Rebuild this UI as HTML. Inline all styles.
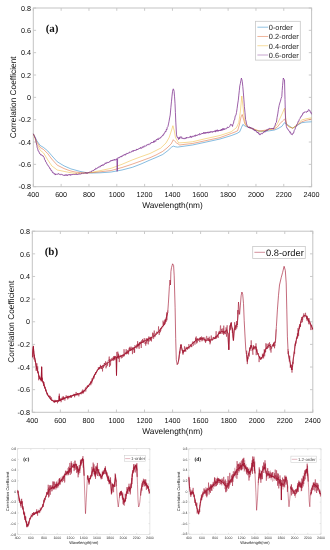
<!DOCTYPE html>
<html><head><meta charset="utf-8"><title>Correlation Coefficient</title>
<style>
html,body{margin:0;padding:0;background:#fff;}
body{width:330px;height:550px;overflow:hidden;}
svg{display:block;text-rendering:geometricPrecision;}
</style></head><body>
<svg width="330" height="550" viewBox="0 0 330 550" font-family="Liberation Sans, Arial, sans-serif" fill="#111">
<rect width="330" height="550" fill="#fff"/>
<rect x="33.3" y="8" width="278.3" height="178.7" fill="none" stroke="#c4c4c4" stroke-width="1.0"/>
<path d="M33.3 186.7v-2.8 M33.3 8v2.8 M61.13 186.7v-2.8 M61.13 8v2.8 M88.96 186.7v-2.8 M88.96 8v2.8 M116.79 186.7v-2.8 M116.79 8v2.8 M144.62 186.7v-2.8 M144.62 8v2.8 M172.45 186.7v-2.8 M172.45 8v2.8 M200.28 186.7v-2.8 M200.28 8v2.8 M228.11 186.7v-2.8 M228.11 8v2.8 M255.94 186.7v-2.8 M255.94 8v2.8 M283.77 186.7v-2.8 M283.77 8v2.8 M311.6 186.7v-2.8 M311.6 8v2.8 M33.3 8h2.8 M311.6 8h-2.8 M33.3 30.34h2.8 M311.6 30.34h-2.8 M33.3 52.67h2.8 M311.6 52.67h-2.8 M33.3 75.01h2.8 M311.6 75.01h-2.8 M33.3 97.35h2.8 M311.6 97.35h-2.8 M33.3 119.69h2.8 M311.6 119.69h-2.8 M33.3 142.02h2.8 M311.6 142.02h-2.8 M33.3 164.36h2.8 M311.6 164.36h-2.8 M33.3 186.7h2.8 M311.6 186.7h-2.8" stroke="#c4c4c4" stroke-width="0.9" fill="none"/>
<text x="31" y="8.2" font-size="7.2" text-anchor="end" dominant-baseline="central">0.8</text>
<text x="31" y="30.54" font-size="7.2" text-anchor="end" dominant-baseline="central">0.6</text>
<text x="31" y="52.88" font-size="7.2" text-anchor="end" dominant-baseline="central">0.4</text>
<text x="31" y="75.21" font-size="7.2" text-anchor="end" dominant-baseline="central">0.2</text>
<text x="31" y="97.55" font-size="7.2" text-anchor="end" dominant-baseline="central">0</text>
<text x="31" y="119.89" font-size="7.2" text-anchor="end" dominant-baseline="central">-0.2</text>
<text x="31" y="142.22" font-size="7.2" text-anchor="end" dominant-baseline="central">-0.4</text>
<text x="31" y="164.56" font-size="7.2" text-anchor="end" dominant-baseline="central">-0.6</text>
<text x="31" y="186.9" font-size="7.2" text-anchor="end" dominant-baseline="central">-0.8</text>
<text x="33.3" y="197.3" font-size="7.2" text-anchor="middle">400</text>
<text x="61.13" y="197.3" font-size="7.2" text-anchor="middle">600</text>
<text x="88.96" y="197.3" font-size="7.2" text-anchor="middle">800</text>
<text x="116.79" y="197.3" font-size="7.2" text-anchor="middle">1000</text>
<text x="144.62" y="197.3" font-size="7.2" text-anchor="middle">1200</text>
<text x="172.45" y="197.3" font-size="7.2" text-anchor="middle">1400</text>
<text x="200.28" y="197.3" font-size="7.2" text-anchor="middle">1600</text>
<text x="228.11" y="197.3" font-size="7.2" text-anchor="middle">1800</text>
<text x="255.94" y="197.3" font-size="7.2" text-anchor="middle">2000</text>
<text x="283.77" y="197.3" font-size="7.2" text-anchor="middle">2200</text>
<text x="311.6" y="197.3" font-size="7.2" text-anchor="middle">2400</text>
<text x="172.45" y="208.4" font-size="8.3" text-anchor="middle">Wavelength(nm)</text>
<text transform="translate(16 97.35) rotate(-90)" font-size="8.3" text-anchor="middle">Correlation Coefficient</text>
<text x="45.7" y="31.7" font-size="11" font-family="Liberation Serif, serif" font-weight="bold" fill="#111">(a)</text>
<rect x="32.3" y="231.2" width="280.5" height="181.1" fill="none" stroke="#c4c4c4" stroke-width="1.0"/>
<path d="M32.3 412.3v-2.8 M32.3 231.2v2.8 M60.35 412.3v-2.8 M60.35 231.2v2.8 M88.4 412.3v-2.8 M88.4 231.2v2.8 M116.45 412.3v-2.8 M116.45 231.2v2.8 M144.5 412.3v-2.8 M144.5 231.2v2.8 M172.55 412.3v-2.8 M172.55 231.2v2.8 M200.6 412.3v-2.8 M200.6 231.2v2.8 M228.65 412.3v-2.8 M228.65 231.2v2.8 M256.7 412.3v-2.8 M256.7 231.2v2.8 M284.75 412.3v-2.8 M284.75 231.2v2.8 M312.8 412.3v-2.8 M312.8 231.2v2.8 M32.3 231.2h2.8 M312.8 231.2h-2.8 M32.3 253.84h2.8 M312.8 253.84h-2.8 M32.3 276.48h2.8 M312.8 276.48h-2.8 M32.3 299.11h2.8 M312.8 299.11h-2.8 M32.3 321.75h2.8 M312.8 321.75h-2.8 M32.3 344.39h2.8 M312.8 344.39h-2.8 M32.3 367.02h2.8 M312.8 367.02h-2.8 M32.3 389.66h2.8 M312.8 389.66h-2.8 M32.3 412.3h2.8 M312.8 412.3h-2.8" stroke="#c4c4c4" stroke-width="0.9" fill="none"/>
<text x="30" y="231.4" font-size="7.2" text-anchor="end" dominant-baseline="central">0.8</text>
<text x="30" y="254.04" font-size="7.2" text-anchor="end" dominant-baseline="central">0.6</text>
<text x="30" y="276.68" font-size="7.2" text-anchor="end" dominant-baseline="central">0.4</text>
<text x="30" y="299.31" font-size="7.2" text-anchor="end" dominant-baseline="central">0.2</text>
<text x="30" y="321.95" font-size="7.2" text-anchor="end" dominant-baseline="central">0</text>
<text x="30" y="344.59" font-size="7.2" text-anchor="end" dominant-baseline="central">-0.2</text>
<text x="30" y="367.22" font-size="7.2" text-anchor="end" dominant-baseline="central">-0.4</text>
<text x="30" y="389.86" font-size="7.2" text-anchor="end" dominant-baseline="central">-0.6</text>
<text x="30" y="412.5" font-size="7.2" text-anchor="end" dominant-baseline="central">-0.8</text>
<text x="32.3" y="422.9" font-size="7.2" text-anchor="middle">400</text>
<text x="60.35" y="422.9" font-size="7.2" text-anchor="middle">600</text>
<text x="88.4" y="422.9" font-size="7.2" text-anchor="middle">800</text>
<text x="116.45" y="422.9" font-size="7.2" text-anchor="middle">1000</text>
<text x="144.5" y="422.9" font-size="7.2" text-anchor="middle">1200</text>
<text x="172.55" y="422.9" font-size="7.2" text-anchor="middle">1400</text>
<text x="200.6" y="422.9" font-size="7.2" text-anchor="middle">1600</text>
<text x="228.65" y="422.9" font-size="7.2" text-anchor="middle">1800</text>
<text x="256.7" y="422.9" font-size="7.2" text-anchor="middle">2000</text>
<text x="284.75" y="422.9" font-size="7.2" text-anchor="middle">2200</text>
<text x="312.8" y="422.9" font-size="7.2" text-anchor="middle">2400</text>
<text x="172.55" y="434" font-size="8.3" text-anchor="middle">Wavelength(nm)</text>
<text transform="translate(14.4 321.75) rotate(-90)" font-size="8.3" text-anchor="middle">Correlation Coefficient</text>
<text x="44.7" y="254.9" font-size="11" font-family="Liberation Serif, serif" font-weight="bold" fill="#111">(b)</text>
<rect x="17.6" y="448.7" width="132.3" height="85.6" fill="none" stroke="#d4d4d4" stroke-width="0.6"/>
<path d="M17.6 534.3v-1.4 M17.6 448.7v1.4 M30.83 534.3v-1.4 M30.83 448.7v1.4 M44.06 534.3v-1.4 M44.06 448.7v1.4 M57.29 534.3v-1.4 M57.29 448.7v1.4 M70.52 534.3v-1.4 M70.52 448.7v1.4 M83.75 534.3v-1.4 M83.75 448.7v1.4 M96.98 534.3v-1.4 M96.98 448.7v1.4 M110.21 534.3v-1.4 M110.21 448.7v1.4 M123.44 534.3v-1.4 M123.44 448.7v1.4 M136.67 534.3v-1.4 M136.67 448.7v1.4 M149.9 534.3v-1.4 M149.9 448.7v1.4 M17.6 448.7h1.4 M149.9 448.7h-1.4 M17.6 459.4h1.4 M149.9 459.4h-1.4 M17.6 470.1h1.4 M149.9 470.1h-1.4 M17.6 480.8h1.4 M149.9 480.8h-1.4 M17.6 491.5h1.4 M149.9 491.5h-1.4 M17.6 502.2h1.4 M149.9 502.2h-1.4 M17.6 512.9h1.4 M149.9 512.9h-1.4 M17.6 523.6h1.4 M149.9 523.6h-1.4 M17.6 534.3h1.4 M149.9 534.3h-1.4" stroke="#d4d4d4" stroke-width="0.54" fill="none"/>
<text x="16.3" y="448.9" font-size="3.5" text-anchor="end" dominant-baseline="central" fill="#333">0.8</text>
<text x="16.3" y="459.6" font-size="3.5" text-anchor="end" dominant-baseline="central" fill="#333">0.6</text>
<text x="16.3" y="470.3" font-size="3.5" text-anchor="end" dominant-baseline="central" fill="#333">0.4</text>
<text x="16.3" y="481" font-size="3.5" text-anchor="end" dominant-baseline="central" fill="#333">0.2</text>
<text x="16.3" y="491.7" font-size="3.5" text-anchor="end" dominant-baseline="central" fill="#333">0</text>
<text x="16.3" y="502.4" font-size="3.5" text-anchor="end" dominant-baseline="central" fill="#333">-0.2</text>
<text x="16.3" y="513.1" font-size="3.5" text-anchor="end" dominant-baseline="central" fill="#333">-0.4</text>
<text x="16.3" y="523.8" font-size="3.5" text-anchor="end" dominant-baseline="central" fill="#333">-0.6</text>
<text x="16.3" y="534.5" font-size="3.5" text-anchor="end" dominant-baseline="central" fill="#333">-0.8</text>
<text x="17.6" y="539" font-size="3.5" text-anchor="middle" fill="#333">400</text>
<text x="30.83" y="539" font-size="3.5" text-anchor="middle" fill="#333">600</text>
<text x="44.06" y="539" font-size="3.5" text-anchor="middle" fill="#333">800</text>
<text x="57.29" y="539" font-size="3.5" text-anchor="middle" fill="#333">1000</text>
<text x="70.52" y="539" font-size="3.5" text-anchor="middle" fill="#333">1200</text>
<text x="83.75" y="539" font-size="3.5" text-anchor="middle" fill="#333">1400</text>
<text x="96.98" y="539" font-size="3.5" text-anchor="middle" fill="#333">1600</text>
<text x="110.21" y="539" font-size="3.5" text-anchor="middle" fill="#333">1800</text>
<text x="123.44" y="539" font-size="3.5" text-anchor="middle" fill="#333">2000</text>
<text x="136.67" y="539" font-size="3.5" text-anchor="middle" fill="#333">2200</text>
<text x="149.9" y="539" font-size="3.5" text-anchor="middle" fill="#333">2400</text>
<text x="83.75" y="543.7" font-size="4.0" text-anchor="middle">Wavelength(nm)</text>
<text transform="translate(9 491.5) rotate(-90)" font-size="4.0" text-anchor="middle">Correlation Coefficient</text>
<text x="23.2" y="460.8" font-size="5.6" font-family="Liberation Serif, serif" font-weight="bold" fill="#111">(c)</text>
<rect x="188.8" y="448.8" width="132.2" height="85.4" fill="none" stroke="#d4d4d4" stroke-width="0.6"/>
<path d="M188.8 534.2v-1.4 M188.8 448.8v1.4 M202.02 534.2v-1.4 M202.02 448.8v1.4 M215.24 534.2v-1.4 M215.24 448.8v1.4 M228.46 534.2v-1.4 M228.46 448.8v1.4 M241.68 534.2v-1.4 M241.68 448.8v1.4 M254.9 534.2v-1.4 M254.9 448.8v1.4 M268.12 534.2v-1.4 M268.12 448.8v1.4 M281.34 534.2v-1.4 M281.34 448.8v1.4 M294.56 534.2v-1.4 M294.56 448.8v1.4 M307.78 534.2v-1.4 M307.78 448.8v1.4 M321 534.2v-1.4 M321 448.8v1.4 M188.8 448.8h1.4 M321 448.8h-1.4 M188.8 459.48h1.4 M321 459.48h-1.4 M188.8 470.15h1.4 M321 470.15h-1.4 M188.8 480.83h1.4 M321 480.83h-1.4 M188.8 491.5h1.4 M321 491.5h-1.4 M188.8 502.18h1.4 M321 502.18h-1.4 M188.8 512.85h1.4 M321 512.85h-1.4 M188.8 523.53h1.4 M321 523.53h-1.4 M188.8 534.2h1.4 M321 534.2h-1.4" stroke="#d4d4d4" stroke-width="0.54" fill="none"/>
<text x="187.5" y="449" font-size="3.5" text-anchor="end" dominant-baseline="central" fill="#333">0.8</text>
<text x="187.5" y="459.68" font-size="3.5" text-anchor="end" dominant-baseline="central" fill="#333">0.6</text>
<text x="187.5" y="470.35" font-size="3.5" text-anchor="end" dominant-baseline="central" fill="#333">0.4</text>
<text x="187.5" y="481.03" font-size="3.5" text-anchor="end" dominant-baseline="central" fill="#333">0.2</text>
<text x="187.5" y="491.7" font-size="3.5" text-anchor="end" dominant-baseline="central" fill="#333">0</text>
<text x="187.5" y="502.38" font-size="3.5" text-anchor="end" dominant-baseline="central" fill="#333">-0.2</text>
<text x="187.5" y="513.05" font-size="3.5" text-anchor="end" dominant-baseline="central" fill="#333">-0.4</text>
<text x="187.5" y="523.73" font-size="3.5" text-anchor="end" dominant-baseline="central" fill="#333">-0.6</text>
<text x="187.5" y="534.4" font-size="3.5" text-anchor="end" dominant-baseline="central" fill="#333">-0.8</text>
<text x="188.8" y="538.9" font-size="3.5" text-anchor="middle" fill="#333">400</text>
<text x="202.02" y="538.9" font-size="3.5" text-anchor="middle" fill="#333">600</text>
<text x="215.24" y="538.9" font-size="3.5" text-anchor="middle" fill="#333">800</text>
<text x="228.46" y="538.9" font-size="3.5" text-anchor="middle" fill="#333">1000</text>
<text x="241.68" y="538.9" font-size="3.5" text-anchor="middle" fill="#333">1200</text>
<text x="254.9" y="538.9" font-size="3.5" text-anchor="middle" fill="#333">1400</text>
<text x="268.12" y="538.9" font-size="3.5" text-anchor="middle" fill="#333">1600</text>
<text x="281.34" y="538.9" font-size="3.5" text-anchor="middle" fill="#333">1800</text>
<text x="294.56" y="538.9" font-size="3.5" text-anchor="middle" fill="#333">2000</text>
<text x="307.78" y="538.9" font-size="3.5" text-anchor="middle" fill="#333">2200</text>
<text x="321" y="538.9" font-size="3.5" text-anchor="middle" fill="#333">2400</text>
<text x="254.9" y="543.6" font-size="4.0" text-anchor="middle">Wavelength(nm)</text>
<text transform="translate(180.2 491.5) rotate(-90)" font-size="4.0" text-anchor="middle">Correlation Coefficient</text>
<text x="194.4" y="460.9" font-size="5.6" font-family="Liberation Serif, serif" font-weight="bold" fill="#111">(d)</text>
<polyline points="33.4,133.9 36.8,140.7 40.2,145.5 43.6,147.5 47.7,150.9 51.8,155.7 57.3,161.8 64.1,165.9 70.9,168.9 75,170 80,171.4 86.2,172.6 92,173 100,172.8 111.2,172 122,170 132.4,167.3 141,164 150,160 156,157.5 162.7,154.5 168,150.5 171.5,147.2 173.3,146.1 175.5,146.8 177.6,147.1 184,146.2 192.4,145 205,142.3 220,139 231.2,135.6 237,133.4 239.7,131.8 241.5,127.5 242.9,124.4 244.2,125.5 246,126.5 252.4,128.6 256,130.5 260.9,131.4 265,131.2 269.4,130.8 274.5,130 278,128.6 281.8,126.4 284.5,122.7 287.3,124.5 290,126.5 292.7,128.2 296,126 301.8,122.7 306,122.1 311.5,121.8" fill="none" stroke="#0072BD" stroke-width="0.8" stroke-linejoin="round" stroke-opacity="0.6"/>
<polyline points="33.4,133.9 36.8,142 40.2,147.5 43.6,149.5 47.7,153.6 51.8,159.1 57.3,165.2 64.1,168.6 70,170.8 75,172 81,172.7 88,172.9 95,172.4 111.2,170.5 122,167.5 132.4,164.1 141,161 150,157.7 156,155 162.7,151.4 167,148 171.2,143.9 173.3,139.7 175,141.5 176.5,142.9 179.7,145 185,144.3 192.4,143.5 205,140.8 220,137.6 231.2,133.5 235,132 237.6,130.8 239.6,124 241,117 242.2,114.5 243.5,119 245,124.4 248,127 252.4,128.6 258.8,130.8 264,130.4 269.4,129.5 274.5,129 277.5,126.8 280,123.6 282.5,121 284.5,119.1 286,122 287.3,125.5 290,127.2 292.7,128.2 296,126 301.8,121.8 306,120.3 311.5,119.1" fill="none" stroke="#D95319" stroke-width="0.8" stroke-linejoin="round" stroke-opacity="0.6"/>
<polyline points="33.4,133.9 36.8,144.1 40.2,150.2 43.6,153 47.7,159.8 51.8,165.9 57.3,170 64.1,171.4 70,172.6 75,173.4 82,173.4 90,172.6 100,170.7 111.2,168.3 122,164.3 132.4,159.9 141,156.7 150,153.5 160.6,148.2 166,143 169.1,137.6 171.3,131 172.9,125.7 174.3,131 175.5,137.6 178.6,142.9 185,142.5 192.4,141.8 205,138.8 220,135.5 231.2,131.8 236.5,127.6 238.8,122.5 240.3,112 241.8,96 243.2,108 244.3,119 246,125.5 249,127.5 252.4,128.6 259.9,131.8 264,131 269.4,129.7 274.5,128.2 277.5,123.5 280,118.2 282.5,113 284.5,108.2 285.5,116 286.4,124.5 289.5,127 292.7,128.2 296,125.5 301.8,120 306,118.8 311.5,117.8" fill="none" stroke="#EDB120" stroke-width="0.8" stroke-linejoin="round" stroke-opacity="0.6"/>
<polyline points="33.4,133.79 33.92,135.5 34.45,135.92 34.98,137.89 35.5,138.12 36.15,142.19 36.8,145.39 37.27,147.9 37.73,148.84 38.2,151.14 38.87,151.34 39.53,153.55 40.2,153.7 40.9,155.16 41.6,154.75 42.3,155.89 42.95,155.57 43.6,157.02 44.12,157.33 44.65,159.65 45.18,159.95 45.7,161.94 46.38,162.34 47.06,164.46 47.74,164.82 48.42,166.32 49.1,166.68 49.78,168.63 50.46,168.65 51.14,170.75 51.82,170.53 52.5,172.65 53.17,172.26 53.85,173.78 54.53,173.43 55.2,175.06 55.88,173.71 56.56,174.44 57.24,174.03 57.92,174.39 58.6,173.42 59.29,174.6 59.98,173.9 60.66,174.8 61.35,174.24 62.04,175.12 62.72,174.61 63.41,175.52 64.1,174.75 64.78,175.8 65.46,174.61 66.14,175.74 66.82,174.43 67.5,175.69 68.18,174.46 68.86,175.12 69.54,174.26 70.22,175.52 70.9,174.16 71.58,175.18 72.27,174.14 72.95,174.83 73.63,173.93 74.32,174.91 75,174.13 75.62,174.48 76.25,173.66 76.88,174.91 77.5,173.99 78.12,174.67 78.75,173.68 79.38,174.16 80,173.62 80.69,174.36 81.38,173.08 82.07,173.73 82.76,173.03 83.44,173.53 84.13,172.77 84.82,173.5 85.51,172.47 86.2,173.69 86.83,172.48 87.47,173.47 88.1,172.36 88.73,172.68 89.37,171.95 90,172.42 90.62,171.7 91.25,171.9 91.88,170.71 92.5,171 93.12,170.29 93.75,170.67 94.38,169.38 95,169.98 95.7,168.27 96.4,168.85 97.1,167.76 97.8,168.16 98.5,166.87 99.2,167.43 99.9,166.15 100.6,166.81 101.27,164.98 101.95,166 102.62,164.65 103.3,165.44 103.97,164.07 104.65,164.39 105.33,162.78 106,163.83 106.65,162.45 107.3,162.84 107.95,161.95 108.6,162.68 109.25,161.65 109.9,162.11 110.55,160.58 111.2,161.08 111.86,160.07 112.53,160.97 113.19,159.61 113.85,160.45 114.51,159.16 115.17,160.32 115.84,159.26 116.5,159.38 116.9,158.55 117.1,171.37 117.4,170.17 117.6,158.88 118.2,157.5 118.8,158.15 119.4,157.04 120,157.52 120.6,156.41 121.2,157.1 121.8,155.84 122.45,156.31 123.1,154.85 123.75,155.42 124.4,154.38 125.05,155.33 125.7,153.95 126.35,154.32 127,152.95 127.67,153.73 128.35,152.85 129.03,153.31 129.7,151.88 130.38,152.48 131.05,151.59 131.72,152.08 132.4,150.63 133.1,151.6 133.8,150.06 134.5,150.84 135.2,149.91 135.9,150.66 136.6,148.94 137.3,149.96 138,148.89 138.62,149.17 139.25,148.13 139.88,148.69 140.5,147.4 141.12,148.66 141.75,147.35 142.38,147.71 143,146.35 143.7,147.4 144.4,145.69 145.1,146.51 145.8,145.55 146.5,145.81 147.2,144.38 147.9,145.13 148.6,144.06 149.3,144.58 150,143.34 150.62,143.9 151.25,142.26 151.88,143 152.5,142.26 153.12,142.91 153.75,140.89 154.38,142.24 155,140.53 155.7,141.44 156.4,139.31 157.1,140.03 157.8,138.59 158.5,139.65 159.2,137.81 159.9,138.56 160.6,137.24 161.18,137.44 161.76,136.17 162.34,136.11 162.92,134.77 163.5,135.15 164.1,133.15 164.7,133.17 165.3,131.27 165.9,131.87 166.37,129.29 166.83,129.89 167.3,127.18 167.9,126.58 168.5,123.95 169.07,121.24 169.63,117.91 170.2,115.12 170.85,107.79 171.5,101.18 172,96.1 172.5,91.78 172.9,89.9 173.3,88.83 173.7,89.74 174.1,91.26 174.55,96.83 175,103.24 175.4,112.37 175.8,122.1 176.5,134.84 177.2,137.46 177.9,137.24 178.6,139.51 179.15,137.22 179.7,138.82 180.25,136.62 180.8,137.37 181.44,136.73 182.08,138.73 182.72,137.83 183.36,138.74 184,138.18 184.65,139.1 185.29,137.72 185.94,138.72 186.58,137.06 187.23,137.96 187.88,137.41 188.52,137.75 189.17,137.03 189.82,137.38 190.46,135.91 191.11,137.79 191.75,136.42 192.4,137.13 193.06,135.84 193.72,136.56 194.39,135.41 195.05,136.47 195.71,134.79 196.38,135.8 197.04,134.76 197.7,135.37 198.36,134.42 199.03,135.18 199.69,133.47 200.35,134.62 201.01,133.66 201.68,134.03 202.34,132.99 203,134.03 203.69,132.29 204.38,133.59 205.08,132.04 205.77,133.59 206.46,132.15 207.15,133.12 207.85,131.86 208.54,133.2 209.23,131.7 209.92,132.96 210.62,131.43 211.31,132.31 212,131.13 212.67,132.48 213.33,131.3 214,131.96 214.67,130.7 215.33,132.12 216,129.96 216.67,131.38 217.33,129.73 218,131.5 218.67,130.06 219.33,130.93 220,129.92 220.62,130.95 221.25,129.07 221.88,130.67 222.5,128.59 223.12,130.11 223.75,128.3 224.38,129.67 225,128.54 225.68,129.25 226.37,128.1 227.05,128.3 227.73,126.84 228.42,127.67 229.1,126.95 229.8,126.52 230.5,124.35 231.2,124.73 231.85,124.76 232.5,126.45 233,123.72 233.5,123.45 234,120.21 234.62,119.87 235.25,115.79 235.88,115.48 236.5,112.45 237.1,108.52 237.7,103.99 238.3,100.18 238.8,95.11 239.3,90.74 239.8,85.76 240.33,83.62 240.87,80.61 241.4,78.13 241.85,79.56 242.3,81.76 242.8,86.64 243.3,92.09 243.85,99.14 244.4,106.7 245,112.76 245.6,119.65 246.07,121.08 246.53,123.94 247,125.1 247.6,126.8 248.2,127 248.8,127.92 249.4,126.72 250,128.25 250.6,127.29 251.2,128.46 251.8,127.74 252.4,129.31 253.01,128.41 253.63,130.04 254.24,129.47 254.86,131.06 255.47,130.06 256.09,131.59 256.7,131.59 257.34,133.03 257.98,132 258.62,133.89 259.26,133.41 259.9,135.08 260.52,133.82 261.14,134.14 261.76,133.21 262.38,133.78 263,132.52 263.62,132.71 264.25,131.24 264.88,132.26 265.5,130.54 266.15,131.19 266.8,129.68 267.45,130.54 268.1,128.78 268.75,129.32 269.4,128.3 270,128.72 270.6,128.04 271.2,128.94 271.8,128.22 272.4,128.87 273,128.05 273.6,129.13 274.3,126.51 275,125.99 275.7,122.95 276.4,122.39 277.07,117.56 277.75,113.91 278.43,109.32 279.1,105.69 279.78,103.06 280.45,101.18 281.12,98.41 281.8,96.55 282.2,90.47 282.6,85.29 283.3,78.04 283.9,79.2 284.5,79.9 285,99.33 285.5,117.98 285.95,123.04 286.4,126.51 287.07,128.52 287.75,128.82 288.43,130.33 289.1,130.62 289.78,132.47 290.45,131.91 291.12,134.42 291.8,134.17 292.4,134.7 293,132.93 293.6,133.16 294.3,130.21 295,129.3 295.7,127.09 296.4,126.27 297,123.93 297.6,123.47 298.2,121.27 298.8,121.29 299.4,119.28 300,118.59 300.6,116.81 301.2,116.87 301.8,115.15 302.4,115.12 303,112.75 303.6,113.13 304.3,111.92 305,112.48 305.7,111.68 306.4,112.44 307.07,111.13 307.75,111.71 308.43,109.62 309.1,110.21 309.7,110.04 310.3,112.22 310.9,111.97 311.5,114.31" fill="none" stroke="#7E2F8E" stroke-width="0.9" stroke-linejoin="round" stroke-opacity="0.85"/>
<rect x="255.5" y="21.3" width="44.8" height="38.8" fill="#fff" stroke="#c8c8c8" stroke-width="0.8"/>
<line x1="257.4" y1="27.2" x2="268.2" y2="27.2" stroke="#0072BD" stroke-width="0.8" stroke-opacity="0.55"/>
<text x="268.8" y="27.5" font-size="7.4" dominant-baseline="central" fill="#222">0-order</text>
<line x1="257.4" y1="36.47" x2="268.2" y2="36.47" stroke="#D95319" stroke-width="0.8" stroke-opacity="0.55"/>
<text x="268.8" y="36.77" font-size="7.4" dominant-baseline="central" fill="#222">0.2-order</text>
<line x1="257.4" y1="45.74" x2="268.2" y2="45.74" stroke="#EDB120" stroke-width="0.8" stroke-opacity="0.55"/>
<text x="268.8" y="46.04" font-size="7.4" dominant-baseline="central" fill="#222">0.4-order</text>
<line x1="257.4" y1="55.01" x2="268.2" y2="55.01" stroke="#7E2F8E" stroke-width="0.8" stroke-opacity="0.55"/>
<text x="268.8" y="55.31" font-size="7.4" dominant-baseline="central" fill="#222">0.6-order</text>
<polyline points="32.5,357.3 33,350 33.4,346.4 33.8,353.2 34.8,358.6 36.1,365.5 37.5,370.9 38.9,375.7 40.2,379.1 41.3,380 41.6,366.8 41.9,380 43,381.8 44.3,385.9 45.7,390 47,393.4 49.1,397.5 51.8,400.2 54.5,401.6 57.3,400.9 59,400.5 59.3,396.1 59.6,400.5 62.7,398.9 66.8,397.5 70.9,396.1 75.5,394.5 78.2,394.1 80.9,393.2 83.6,391.4 86.4,388.6 89.1,385 91.8,381.4 94.5,375 97.3,370.5 100,367 103.2,366 107.3,363.3 111.4,360.2 115.5,357 116.2,357 116.5,375.2 116.8,357 119.5,356.8 123.6,354.8 127.7,352 131.8,349.3 135.9,346.6 140,343.5 145.3,340.6 148.9,338.8 152.5,337 156.2,334.5 159.2,330.9 161.6,327.3 163.5,325.5 164.7,323.6 166.5,317 167.7,312.7 168.4,303.1 169.4,286.4 170,280 170.5,285 170.9,271.7 171.5,267.6 172.6,263.8 173.6,265.5 174.2,275.9 175.1,307.3 175.7,338.7 176.3,359.6 177.2,364.8 178.4,361.7 179.9,351.2 180.9,345 182,349.1 183,353.3 184.1,350.2 185,350.9 186.2,348.1 188,347.9 191.1,344.8 194.1,341.8 197.1,339.5 200.2,338.8 203.2,338.8 206.2,340.3 209.2,340.3 212.3,339.5 215.3,338 217.6,335 219.8,332.7 222.1,331.2 224.4,332.7 226.7,329.7 228,334 228.8,349.9 229.5,331.4 231.1,322.9 232.6,331.4 233.4,340.6 234.2,329.8 235.7,326.7 237.3,323.6 238,314.4 238.5,302 239.6,314.4 240.4,305.1 241.1,295.8 241.9,292 242.7,294.3 243.5,303.5 244.2,320.5 245,336 245.8,349.9 246.5,354.6 247.3,361.5 248.1,356.1 249.6,349.9 251.2,345.3 252.7,349.9 254.3,346.8 255.8,348.4 257.4,353 258.9,356.1 260.5,359.2 262,357.6 263.6,354.6 265.1,350 267.1,347.2 269.1,345.1 271.2,347.2 273.3,345.1 275.4,341 276.4,326.5 277.4,309.9 278.5,295.3 279.5,285 281.2,277.7 282.6,272.5 284.1,266.3 285.3,270.4 286.2,282.9 286.8,309.9 287.4,336.8 288.2,353.4 289.5,359.7 290.9,365.9 292,370 293,361.7 295.1,345.1 297.2,336.8 299.2,328.5 301.3,320.2 303.4,316.1 305.5,315.1 307.5,318.2 309.6,322.3 311.7,326.5 312.7,329" fill="none" stroke="#A2142F" stroke-width="0.85" stroke-linejoin="round" stroke-opacity="0.75"/>
<polyline points="32.5,357.3 33,350 33.4,346.4 33.8,353.2 34.8,358.6 36.1,365.5 37.5,370.9 38.9,375.7 40.2,379.1 41.3,380 41.6,366.8 41.9,380 43,381.8 44.3,385.9 45.7,390 47,393.4 49.1,397.5 51.8,400.2 54.5,401.6 57.3,400.9 59,400.5 59.3,396.1 59.6,400.5 62.7,398.9 66.8,397.5 70.9,396.1 75.5,394.5 78.2,394.1 80.9,393.2 83.6,391.4 86.4,388.6 89.1,385 91.8,381.4 94.5,375 97.3,370.5 100,367 103.2,366 107.3,363.3 111.4,360.2 115.5,357 116.2,357 116.5,375.2 116.8,357 119.5,356.8 123.6,354.8 127.7,352 131.8,349.3 135.9,346.6 140,343.5 145.3,340.6 148.9,338.8 152.5,337 156.2,334.5 159.2,330.9 161.6,327.3 163.5,325.5 164.7,323.6 166.5,317 167.7,312.7" fill="none" stroke="#A2142F" stroke-width="0.7" stroke-linejoin="round" stroke-opacity="0.6"/>
<polyline points="178.4,361.7 179.9,351.2 180.9,345 182,349.1 183,353.3 184.1,350.2 185,350.9 186.2,348.1 188,347.9 191.1,344.8 194.1,341.8 197.1,339.5 200.2,338.8 203.2,338.8 206.2,340.3 209.2,340.3 212.3,339.5 215.3,338 217.6,335 219.8,332.7 222.1,331.2 224.4,332.7 226.7,329.7 228,334 228.8,349.9 229.5,331.4 231.1,322.9 232.6,331.4 233.4,340.6 234.2,329.8 235.7,326.7 237.3,323.6 238,314.4" fill="none" stroke="#A2142F" stroke-width="0.7" stroke-linejoin="round" stroke-opacity="0.6"/>
<polyline points="246.5,354.6 247.3,361.5 248.1,356.1 249.6,349.9 251.2,345.3 252.7,349.9 254.3,346.8 255.8,348.4 257.4,353 258.9,356.1 260.5,359.2 262,357.6 263.6,354.6 265.1,350 267.1,347.2 269.1,345.1 271.2,347.2 273.3,345.1 275.4,341" fill="none" stroke="#A2142F" stroke-width="0.7" stroke-linejoin="round" stroke-opacity="0.6"/>
<polyline points="288.2,353.4 289.5,359.7 290.9,365.9 292,370 293,361.7 295.1,345.1 297.2,336.8 299.2,328.5 301.3,320.2 303.4,316.1 305.5,315.1 307.5,318.2 309.6,322.3 311.7,326.5 312.7,329" fill="none" stroke="#A2142F" stroke-width="0.7" stroke-linejoin="round" stroke-opacity="0.6"/>
<polyline points="32.5,357.26 32.75,353.52 33,349.64 33.4,346.77 33.8,352.71 34.13,355 34.47,357.2 34.8,358.18 35.12,360.38 35.45,362.17 35.77,363.32 36.1,365.38 36.45,367.05 36.8,368.15 37.15,369.78 37.5,370.56 37.85,371.84 38.2,372.91 38.55,374.51 38.9,376.12 39.23,376.64 39.55,377.67 39.88,378.13 40.2,379.35 40.57,379 40.93,379.49 41.3,380.17 41.6,367.03 41.9,379.92 42.27,380.19 42.63,380.97 43,381.51 43.33,382.61 43.65,384.16 43.97,384.57 44.3,386.29 44.65,387.3 45,387.5 45.35,388.85 45.7,389.99 46.03,390.37 46.35,391.62 46.67,392.96 47,393.01 47.35,394.18 47.7,394.39 48.05,395.53 48.4,396.53 48.75,396.52 49.1,397.01 49.49,397.47 49.87,398.31 50.26,398.17 50.64,398.63 51.03,399.43 51.41,400.24 51.8,400.12 52.19,400.3 52.57,400.74 52.96,400.39 53.34,401.08 53.73,400.87 54.11,401.51 54.5,402.06 54.9,401.05 55.3,401.46 55.7,401.41 56.1,400.85 56.5,400.87 56.9,401.49 57.3,401.4 57.64,400.44 57.98,400.95 58.32,401.11 58.66,400.32 59,400.61 59.3,395.64 59.6,400.37 59.99,400.47 60.38,400.19 60.76,400.17 61.15,399.29 61.54,399.35 61.93,399.66 62.31,399.18 62.7,398.85 63.07,398.67 63.45,399.13 63.82,398.59 64.19,397.91 64.56,398.56 64.94,397.97 65.31,397.94 65.68,397.6 66.05,397.7 66.43,397.45 66.8,397.09 67.17,397.5 67.55,396.85 67.92,397.4 68.29,396.52 68.66,397.14 69.04,397.04 69.41,396.61 69.78,396.69 70.15,396.1 70.53,396.46 70.9,396.03 71.28,395.7 71.67,396.3 72.05,395.6 72.43,395.44 72.82,395.79 73.2,395.17 73.58,395.33 73.97,394.7 74.35,395.24 74.73,394.53 75.12,394.18 75.5,394.98 75.89,394.12 76.27,394.83 76.66,394.81 77.04,394.38 77.43,393.73 77.81,393.72 78.2,393.81 78.59,393.86 78.97,393.95 79.36,394.18 79.74,393.44 80.13,393.1 80.51,393.39 80.9,392.84 81.29,392.53 81.67,392.74 82.06,392.62 82.44,391.74 82.83,391.87 83.21,391.86 83.6,391.66 83.95,390.93 84.3,391.09 84.65,390.02 85,390.22 85.35,389.92 85.7,389.68 86.05,388.94 86.4,388.2 86.79,387.63 87.17,387.6 87.56,386.73 87.94,386.67 88.33,385.61 88.71,385.79 89.1,384.72 89.49,384 89.87,383.65 90.26,383.41 90.64,383 91.03,382.32 91.41,381.59 91.8,381.38 92.19,380.93 92.57,379.61 92.96,379.1 93.34,377.27 93.73,377.32 94.11,376.3 94.5,375.04 94.9,374.38 95.3,373.75 95.7,373.48 96.1,371.99 96.5,371.93 96.9,371.19 97.3,370.3 97.69,370.22 98.07,369.72 98.46,368.6 98.84,368.7 99.23,367.95 99.61,367.49 100,367.14" fill="none" stroke="#A2142F" stroke-width="1.0" stroke-linejoin="round" stroke-opacity="0.5"/>
<polyline points="32.5,354.51 32.67,353.77 32.83,351.71 33,349.56 33.2,348.36 33.4,345.83 33.6,350.54 33.8,351.31 34,359.4 34.2,354.94 34.4,358.05 34.6,357.67 34.8,358.62 35.02,360.08 35.23,361.78 35.45,360.71 35.67,362.44 35.88,363.11 36.1,370.78 36.3,366.2 36.5,367.18 36.7,368.9 36.9,363.31 37.1,370.85 37.3,370.2 37.5,370.86 37.7,366.31 37.9,372.97 38.1,371.38 38.3,371.98 38.5,372.64 38.7,380.29 38.9,375.71 39.12,376.88 39.33,378.86 39.55,378.92 39.77,377.89 39.98,377.84 40.2,378.3 40.42,379.72 40.64,380.47 40.86,376.75 41.08,377.78 41.3,381.6 41.45,374.31 41.6,366.74 41.75,371.96 41.9,380.97 42.08,379.45 42.27,380.11 42.45,377.71 42.63,382.17 42.82,382.06 43,381.18 43.22,383.61 43.43,382.26 43.65,386.07 43.87,383.66 44.08,382.22 44.3,385.06 44.5,387.43 44.7,386.85 44.9,388.45 45.1,386.65 45.3,388.74 45.5,388.92 45.7,391.09 45.92,389.11 46.13,391.22 46.35,391.81 46.57,392.62 46.78,392.98 47,393.8 47.21,394.98 47.42,392.8 47.63,393.84 47.84,395.15 48.05,395.52 48.26,395.98 48.47,396.24 48.68,396.61 48.89,395.63 49.1,396.54 49.31,396.92 49.52,397.06 49.72,395.66 49.93,397.81 50.14,396.07 50.35,399.06 50.55,397.76 50.76,398.56 50.97,399.92 51.18,398.33 51.38,397.32 51.59,397.9 51.8,400.85 52.01,400.44 52.22,399.82 52.42,399.96 52.63,400.21 52.84,399.89 53.05,400.89 53.25,401.47 53.46,401.1 53.67,401.82 53.88,402.45 54.08,401.81 54.29,401.15 54.5,400.59 54.72,402.83 54.93,399.83 55.15,401.98 55.36,400.21 55.58,401.4 55.79,401.75 56.01,401.07 56.22,401.1 56.44,401.54 56.65,400.53 56.87,401.06 57.08,400.32 57.3,400.97 57.51,403.31 57.72,401.05 57.94,400.78 58.15,400.58 58.36,401.8 58.58,400.78 58.79,401.38 59,400.75 59.15,397.67 59.3,393.64 59.45,398.52 59.6,401.16 59.81,399.43 60.01,400.46 60.22,399.64 60.43,400.86 60.63,399.99 60.84,398.18 61.05,402.22 61.25,401.68 61.46,398.71 61.67,400.11 61.87,398.18 62.08,397.77 62.29,396.74 62.49,399.21 62.7,399.9 62.92,398.02 63.13,400.15 63.35,396.21 63.56,398.74 63.78,397.1 63.99,398.05 64.21,398.59 64.43,398.39 64.64,397.53 64.86,400.63 65.07,398.52 65.29,398.1 65.51,397.61 65.72,397.67 65.94,396.63 66.15,395.26 66.37,397.72 66.58,397.07 66.8,397.27 67.02,396.25 67.23,397.18 67.45,396.41 67.66,399.41 67.88,398.09 68.09,395.75 68.31,397.22 68.53,397.64 68.74,398.44 68.96,397.05 69.17,396.94 69.39,395.86 69.61,397.24 69.82,396.78 70.04,397.57 70.25,396.1 70.47,395.21 70.68,397.42 70.9,395.94 71.12,396.39 71.34,397.95 71.56,396.65 71.78,395.93 72,396.65 72.21,395.43 72.43,395.03 72.65,395.02 72.87,395.38 73.09,394.79 73.31,395.49 73.53,395.41 73.75,395.46 73.97,393.85 74.19,394.73 74.4,395.18 74.62,397.27 74.84,394.14 75.06,395.99 75.28,395.86 75.5,394.49 75.71,394.4 75.92,393.97 76.12,391.94 76.33,394.89 76.54,394.3 76.75,394.21 76.95,395.66 77.16,393.4 77.37,394.26 77.58,393.47 77.78,394.43 77.99,394.26 78.2,393.3 78.41,393.96 78.62,394.3 78.82,396.36 79.03,394.32 79.24,394.09 79.45,393.74 79.65,393.07 79.86,392.79 80.07,393.83 80.28,393.63 80.48,393.02 80.69,392.35 80.9,393.43 81.11,394.36 81.32,393.27 81.52,393.34 81.73,391.98 81.94,390.75 82.15,392.24 82.35,393.09 82.56,390.62 82.77,389.49 82.98,393.81 83.18,391.79 83.39,390.5 83.6,392.79 83.82,391.43 84.03,390.43 84.25,391.45 84.46,391.4 84.68,390.01 84.89,389.42 85.11,389.57 85.32,388.04 85.54,387.43 85.75,391.54 85.97,389.36 86.18,388.65 86.4,388.71 86.61,388.7 86.82,388.79 87.02,386.16 87.23,387.41 87.44,385.24 87.65,386.08 87.85,386.67 88.06,385.88 88.27,385.74 88.48,385.9 88.68,386.94 88.89,385.81 89.1,384.52 89.31,384.38 89.52,383.98 89.72,383.98 89.93,384.35 90.14,383.66 90.35,383.36 90.55,381.39 90.76,385.25 90.97,384.07 91.18,382.77 91.38,381.59 91.59,381.76 91.8,383.44 92.01,378.44 92.22,381.34 92.42,380.57 92.63,380 92.84,379.65 93.05,378.69 93.25,377.62 93.46,376.87 93.67,376.03 93.88,376.99 94.08,378.45 94.29,375.2 94.5,375.84 94.72,373.98 94.93,374.18 95.15,374.89 95.36,372.92 95.58,372.5 95.79,374.28 96.01,372.1 96.22,372.69 96.44,372.07 96.65,372.15 96.87,371.65 97.08,370.5 97.3,369.8 97.51,369.81 97.72,370.02 97.92,370.04 98.13,369.22 98.34,367.1 98.55,368.15 98.75,368.56 98.96,369.47 99.17,368.62 99.38,367.77 99.58,369.1 99.79,366.96 100,367.38 100.21,366.56 100.43,364.87 100.64,366.99 100.85,368.95 101.07,367.09 101.28,365.9 101.49,368.53 101.71,367.24 101.92,369.05 102.13,367.87 102.35,367.66 102.56,371.48 102.77,365.06 102.99,365 103.2,367.09 103.42,368 103.63,365.1 103.85,364.71 104.06,366.43 104.28,363.12 104.49,364.23 104.71,362.93 104.93,364 105.14,364.57 105.36,364.85 105.57,361.3 105.79,362.88 106.01,368.32 106.22,365.78 106.44,365.75 106.65,366.62 106.87,363.09 107.08,361.94 107.3,363.33 107.52,365.68 107.73,363.1 107.95,361.49 108.16,360.68 108.38,361.12 108.59,360.24 108.81,359.33 109.03,358.47 109.24,356.55 109.46,366.95 109.67,359.37 109.89,360.75 110.11,358.88 110.32,362.33 110.54,365.56 110.75,361.13 110.97,361.3 111.18,360.82 111.4,360.11 111.62,358.67 111.83,358.03 112.05,358 112.26,360.75 112.48,360.01 112.69,359.72 112.91,358.66 113.13,357.12 113.34,358.53 113.56,360.69 113.77,356.03 113.99,357.45 114.21,360.23 114.42,355.94 114.64,359.13 114.85,357.1 115.07,359.58 115.28,356.4 115.5,355.95 115.67,356.71 115.85,357.02 116.03,357.19 116.2,357.6 116.35,364.1 116.5,375.84 116.65,367.07 116.8,351.9 117.01,356.47 117.22,356.23 117.42,356.51 117.63,358.05 117.84,351.64 118.05,356.65 118.25,358.97 118.46,353.65 118.67,357.51 118.88,354.75 119.08,359.03 119.29,362.1 119.5,358.14 119.72,355.93 119.93,356.25 120.15,356.29 120.36,356.87 120.58,356 120.79,354.95 121.01,354.91 121.23,358.43 121.44,355.53 121.66,355.58 121.87,355.78 122.09,357.23 122.31,357.79 122.52,355.2 122.74,354.9 122.95,356.36 123.17,354.32 123.38,356.03 123.6,355.46 123.82,356.69 124.03,349.23 124.25,353.54 124.46,355.87 124.68,354.46 124.89,353.7 125.11,352.97 125.33,352.31 125.54,353.16 125.76,354.29 125.97,354.13 126.19,349.17 126.41,353.58 126.62,354.27 126.84,351.41 127.05,353.77 127.27,352.42 127.48,353.45 127.7,350.12 127.92,351.27 128.13,352.77 128.35,350.44 128.56,354.42 128.78,349.67 128.99,349.79 129.21,347.8 129.43,350.5 129.64,349.84 129.86,346.8 130.07,350.88 130.29,348.24 130.51,350.33 130.72,350.53 130.94,349.48 131.15,346.69 131.37,348.92 131.58,349.87 131.8,350.66 132.02,348.22 132.23,348.76 132.45,354.15 132.66,347.25 132.88,347.49 133.09,349.23 133.31,347.71 133.53,349.95 133.74,349.55 133.96,349.53 134.17,353.02 134.39,346.9 134.61,352.47 134.82,345.31 135.04,345.87 135.25,346.31 135.47,347.03 135.68,347.48 135.9,348.02 136.12,345.5 136.33,347.92 136.55,348.16 136.76,348.58 136.98,344.22 137.19,346.6 137.41,345.5 137.63,341.14 137.84,347.4 138.06,343.9 138.27,346.14 138.49,343.74 138.71,345.44 138.92,343.66 139.14,348.88 139.35,342.73 139.57,342.2 139.78,345.33 140,342.03 140.21,343.89 140.42,342.72 140.64,341.63 140.85,342.27 141.06,343.51 141.27,348.02 141.48,341.57 141.7,342.89 141.91,340.06 142.12,342.83 142.33,341.29 142.54,338.96 142.76,341.23 142.97,341.52 143.18,342.87 143.39,343.09 143.6,340.31 143.82,341.73 144.03,341.55 144.24,338.1 144.45,341.15 144.66,341.25 144.88,343.73 145.09,343.02 145.3,342.97 145.51,341.77 145.72,345.67 145.94,339.7 146.15,338.44 146.36,341.74 146.57,341.28 146.78,343.74 146.99,338.23 147.21,340.97 147.42,339 147.63,338.7 147.84,341.28 148.05,339.4 148.26,344.4 148.48,337.57 148.69,336.57 148.9,337.85 149.11,341.56 149.32,338.22 149.54,337.28 149.75,336.78 149.96,337.98 150.17,337.95 150.38,340.73 150.59,337.47 150.81,340.01 151.02,336.93 151.23,336.95 151.44,341.45 151.65,338.26 151.86,338.72 152.08,336.54 152.29,336.34 152.5,336.02 152.72,332.6 152.94,336.26 153.15,333.34 153.37,335.99 153.59,338.77 153.81,337.67 154.02,336.31 154.24,330.54 154.46,334.75 154.68,335.59 154.89,337.12 155.11,335.63 155.33,335.67 155.55,334.35 155.76,333.38 155.98,334.68 156.2,334.65 156.41,332.91 156.63,331.73 156.84,333.1 157.06,333.33 157.27,333.57 157.49,331.94 157.7,332.54 157.91,332.79 158.13,331.45 158.34,331.02 158.56,326.39 158.77,330.35 158.99,331.83 159.2,334.93 159.42,331.66 159.64,332.69 159.85,333.05 160.07,329.75 160.29,332.03 160.51,328.52 160.73,329.93 160.95,330.52 161.16,327.81 161.38,327.59 161.6,328.97 161.81,328.24 162.02,326.38 162.23,325.91 162.44,326.26 162.66,327.43 162.87,326.54 163.08,320.62 163.29,324.22 163.5,326.21 163.7,322.24 163.9,324.38 164.1,325.24 164.3,324.5 164.5,324.8 164.7,319.65 164.9,324.23 165.1,323.13 165.3,322.64 165.5,319.98 165.7,320.74 165.9,319.1 166.1,322.05 166.3,317.59 166.5,318.24 166.7,312.38 166.9,320.3 167.1,314.85 167.3,314.13 167.5,313.42 167.7,312.7 167.88,310.3" fill="none" stroke="#A2142F" stroke-width="0.55" stroke-linejoin="round" stroke-opacity="0.9"/>
<polyline points="177.8,363.21 178,363.84 178.2,362.77 178.4,361.7 178.61,360.25 178.83,358.78 179.04,358.43 179.26,354.74 179.47,351.6 179.69,351.37 179.9,353.5 180.1,349.61 180.3,347.13 180.5,348.24 180.7,345.68 180.9,344.07 181.12,345.42 181.34,344.57 181.56,347.3 181.78,348.84 182,350.24 182.2,350.39 182.4,350.99 182.6,349.89 182.8,353 183,354.72 183.22,351.09 183.44,350.18 183.66,351.35 183.88,350.8 184.1,351.87 184.28,350.46 184.46,346.26 184.64,349.17 184.82,351.55 185,351.37 185.2,349.92 185.4,350.05 185.6,350.17 185.8,351.65 186,347.55 186.2,346.8 186.4,348.8 186.6,348.96 186.8,348.01 187,348.85 187.2,348.61 187.4,349.84 187.6,348.59 187.8,346.91 188,348.01 188.21,348.94 188.41,346.75 188.62,347.57 188.83,344.11 189.03,345.05 189.24,346.12 189.45,348.38 189.65,347.78 189.86,346.72 190.07,346.47 190.27,346.54 190.48,346.58 190.69,344.21 190.89,345.12 191.1,346.85 191.31,345.46 191.53,344.87 191.74,347.17 191.96,344.76 192.17,342.83 192.39,342.73 192.6,343.52 192.81,342.48 193.03,341.25 193.24,345.77 193.46,342.33 193.67,342.53 193.89,342.23 194.1,342.69 194.31,342.86 194.53,341.32 194.74,341.29 194.96,344.66 195.17,341.22 195.39,340.55 195.6,337.75 195.81,341.42 196.03,337.26 196.24,336.48 196.46,340.94 196.67,343.56 196.89,339.87 197.1,338.45 197.31,342.54 197.51,338.77 197.72,338.61 197.93,338.76 198.13,339.69 198.34,340.36 198.55,340.86 198.75,339.35 198.96,339.53 199.17,338.9 199.37,339.05 199.58,338.37 199.79,342.11 199.99,339.53 200.2,337.07 200.41,339.92 200.63,338.56 200.84,337.41 201.06,339.7 201.27,337.67 201.49,336.5 201.7,336.81 201.91,341.29 202.13,337.71 202.34,339.85 202.56,340.38 202.77,337.45 202.99,338.33 203.2,338.21 203.41,337.41 203.63,339.47 203.84,339.3 204.06,340.65 204.27,340.79 204.49,339.74 204.7,337.52 204.91,338.29 205.13,341.49 205.34,339.79 205.56,342.89 205.77,339.89 205.99,341.42 206.2,340.22 206.41,336.28 206.63,336.08 206.84,336.08 207.06,340.06 207.27,339.78 207.49,338.18 207.7,338.24 207.91,339.82 208.13,340.04 208.34,339.98 208.56,338.16 208.77,340.42 208.99,340.77 209.2,336.7 209.41,341.84 209.61,341.02 209.82,338.94 210.03,344.31 210.23,340.47 210.44,342.58 210.65,340.26 210.85,339.23 211.06,338.33 211.27,335.54 211.47,339.16 211.68,338.68 211.89,339.01 212.09,340.92 212.3,339.27 212.51,338.77 212.73,338.74 212.94,339.29 213.16,336.98 213.37,338.33 213.59,337.17 213.8,337.14 214.01,338.14 214.23,338.86 214.44,338.89 214.66,337.34 214.87,339.12 215.09,337.55 215.3,336.8 215.51,335.94 215.72,338.99 215.93,335.19 216.14,331.19 216.35,338.43 216.55,337.97 216.76,336.77 216.97,337.15 217.18,335.15 217.39,335.33 217.6,336.72 217.8,334.74 218,336.33 218.2,337.96 218.4,332.36 218.6,334.53 218.8,333.31 219,333.12 219.2,330.88 219.4,334.06 219.6,332.8 219.8,331.49 220.01,333.99 220.22,328.93 220.43,325.6 220.64,325.47 220.85,333.94 221.05,332.5 221.26,331.74 221.47,330.96 221.68,328.82 221.89,330.7 222.1,331.88 222.31,333.72 222.52,331.98 222.73,331.55 222.94,328.26 223.15,332.26 223.35,331.19 223.56,334.71 223.77,325.6 223.98,331.2 224.19,334.23 224.4,333.05 224.61,331.05 224.82,331.35 225.03,331.52 225.24,330.82 225.45,334.13 225.65,332.17 225.86,331.18 226.07,327.36 226.28,331.07 226.49,336.66 226.7,333.37 226.92,327.87 227.13,325.23 227.35,332.81 227.57,332.74 227.78,332.66 228,333.05 228.2,339.06 228.4,344.41 228.6,346.22 228.8,349.48 228.98,345.22 229.15,342.86 229.32,333.59 229.5,331.86 229.7,325.44 229.9,327.05 230.1,327.38 230.3,329.76 230.5,324.37 230.7,325.84 230.9,323.45 231.1,323.34 231.31,322.04 231.53,324.96 231.74,327.85 231.96,328.7 232.17,329.31 232.39,332.95 232.6,327.77 232.8,336.11 233,337.55 233.2,337.91 233.4,339.88 233.6,340.07 233.8,333.19 234,332.58 234.2,330.86 234.41,330.06 234.63,322.23 234.84,329.97 235.06,327.73 235.27,325.84 235.49,325.26 235.7,330.21 235.9,325.34 236.1,324.71 236.3,324.04 236.5,321.07 236.7,328.63 236.9,325.86 237.1,326.72 237.3,323.7 237.48,325.01 237.65,318.62 237.82,310.01 238,314.43 238.17,310.25" fill="none" stroke="#A2142F" stroke-width="0.55" stroke-linejoin="round" stroke-opacity="0.9"/>
<polyline points="246.32,353.37 246.5,354.18 246.7,350.69 246.9,353.98 247.1,357.5 247.3,364.11 247.5,361.57 247.7,357.03 247.9,359.18 248.1,356.32 248.31,355.2 248.53,355.08 248.74,353.19 248.96,353.67 249.17,355.74 249.39,356.42 249.6,347.7 249.8,348.7 250,350.88 250.2,346.99 250.4,348.83 250.6,345.61 250.8,345.15 251,346.95 251.2,340.34 251.41,345.89 251.63,347.26 251.84,346.7 252.06,350.66 252.27,349.91 252.49,352.32 252.7,352.78 252.9,354.78 253.1,349.91 253.3,345.12 253.5,346.62 253.7,348.97 253.9,345.91 254.1,347.88 254.3,348.38 254.51,347.74 254.73,349.34 254.94,348.92 255.16,348.49 255.37,346.03 255.59,347.89 255.8,347.41 256,343.34 256.2,355.18 256.4,346.69 256.6,348.82 256.8,351.4 257,349.37 257.2,350.29 257.4,353.35 257.61,353.35 257.83,354.7 258.04,354.25 258.26,353.02 258.47,353.63 258.69,355.71 258.9,356.05 259.1,362.12 259.3,356.46 259.5,357.12 259.7,358.2 259.9,356.56 260.1,357.54 260.3,357.82 260.5,359.98 260.71,359.6 260.93,359.61 261.14,357.1 261.36,359.19 261.57,356.99 261.79,357.41 262,357.73 262.2,358.41 262.4,353.74 262.6,354.26 262.8,356.19 263,354.67 263.2,356.7 263.4,354.89 263.6,358.39 263.81,353.86 264.03,353.99 264.24,349.21 264.46,351.54 264.67,356.33 264.89,350.76 265.1,349.79 265.3,352.59 265.5,350.68 265.7,351.74 265.9,343.25 266.1,349.31 266.3,347.99 266.5,348.77 266.7,348.47 266.9,346.1 267.1,343.8 267.3,347.81 267.5,348.88 267.7,347.09 267.9,347.55 268.1,346.45 268.3,346.6 268.5,343.56 268.7,344.54 268.9,347.69 269.1,345.59 269.31,345.52 269.52,342.33 269.73,344.85 269.94,347.54 270.15,350.35 270.36,346.09 270.57,344.13 270.78,347.32 270.99,352.62 271.2,347.57 271.41,347.44 271.62,348.8 271.83,347.55 272.04,346.69 272.25,345.25 272.46,344.65 272.67,345.59 272.88,345.91 273.09,344.22 273.3,346.27 273.51,342.88 273.72,346.57 273.93,342.36 274.14,343.07 274.35,343.99 274.56,348.27 274.77,344.62 274.98,345.73 275.19,342.49 275.4,342.98 275.6,339.97 275.8,338.06 276,332.28 276.2,329.36" fill="none" stroke="#A2142F" stroke-width="0.55" stroke-linejoin="round" stroke-opacity="0.9"/>
<polyline points="288,349.01 288.2,353.84 288.42,351.28 288.63,354.96 288.85,355.74 289.07,358.13 289.28,361.41 289.5,360.68 289.7,355.74 289.9,359.72 290.1,362.32 290.3,367.74 290.5,364.97 290.7,367.1 290.9,364.9 291.08,366.25 291.27,364.68 291.45,369.99 291.63,367.28 291.82,369.69 292,372.65 292.2,367.56 292.4,366.43 292.6,367.04 292.8,361.82 293,363.82 293.21,358.86 293.42,356.77 293.63,356.55 293.84,354.39 294.05,353.91 294.26,351.79 294.47,352.66 294.68,353.7 294.89,345.78 295.1,343.46 295.31,343.96 295.52,345.84 295.73,341.48 295.94,343.72 296.15,341.48 296.36,338.12 296.57,337.95 296.78,339.02 296.99,336.68 297.2,338.42 297.4,333.29 297.6,335.59 297.8,337.21 298,328.2 298.2,331.62 298.4,329.91 298.6,335.99 298.8,329.56 299,328.79 299.2,326.38 299.41,328.87 299.62,326.69 299.83,324.06 300.04,326.31 300.25,324.59 300.46,327.09 300.67,323.09 300.88,321.62 301.09,322.9 301.3,319.08 301.51,319.95 301.72,317.2 301.93,318.5 302.14,316.93 302.35,322.25 302.56,319.48 302.77,320.07 302.98,316.6 303.19,315.71 303.4,316.12 303.61,314.46 303.82,313.36 304.03,316.9 304.24,317.12 304.45,317.31 304.66,315.24 304.87,315.43 305.08,314.78 305.29,314.29 305.5,312.79 305.7,314.38 305.9,316.99 306.1,315.62 306.3,315.71 306.5,319.14 306.7,316.55 306.9,319.28 307.1,320.86 307.3,315.86 307.5,318.34 307.71,320.19 307.92,318.32 308.13,318.02 308.34,322.15 308.55,319.69 308.76,324.24 308.97,318.06 309.18,319.01 309.39,321.34 309.6,320.9 309.81,321.42 310.02,324.55 310.23,322.58 310.44,323.25 310.65,324.98 310.86,330.1 311.07,324.61 311.28,326.38 311.49,325.92 311.7,325.28 311.9,326.49 312.1,327.21 312.3,329.78 312.5,328.03 312.7,329.22" fill="none" stroke="#A2142F" stroke-width="0.55" stroke-linejoin="round" stroke-opacity="0.9"/>
<rect x="252.7" y="246.4" width="52.6" height="12.1" fill="#fff" stroke="#c8c8c8" stroke-width="0.8"/>
<line x1="254.4" y1="252.3" x2="265" y2="252.3" stroke="#A2142F" stroke-width="0.8" stroke-opacity="0.6"/>
<text x="266" y="256.1" font-size="9.3" fill="#111">0.8-order</text>
<polyline points="17.7,490.6 18.7,495.9 19.8,501.2 20.8,504.4 21.9,501.2 22.4,505.4 23.5,510.8 24.5,516.1 25.6,520.3 26.7,523.5 27.5,526.1 28.6,523.5 29.8,519.2 30.9,516.6 32.5,515 34.1,513.9 36.2,512.9 38.3,511.8 40.5,510.2 42,507.6 43.6,503.3 45.2,498.6 47,493.8 49.1,489.8 51.8,488 54.5,486.8 57.3,484.8 60,482.1 62.7,478.6 65.5,474.5 68.2,471.8 70.9,468.4 73.6,465.7 75.7,464.3 77.1,467 78.4,471.8 79.8,469.1 81.1,461.5 82.5,458.5 83.4,462.5 84.1,475.5 84.8,495.9 85.5,513.7 86.1,502.7 86.8,489.1 87.5,475.5 88.9,482.3 90.2,478.2 91.6,474.1 93,468.6 94.3,471.4 95.7,472.7 97.1,468.6 98.4,471.4 99.8,474.1 101.1,476.8 102.5,475.5 103.9,471.4 105.2,468.6 106.6,474.1 108,478.2 109.3,480.9 110.7,482.3 111.6,493.2 112.7,485 114.1,486.4 115.5,476.8 116.2,482 117.4,499.9 118.3,507 119.1,499.9 120,492.8 120.9,491.6 122.1,495.2 123.3,498.7 124.5,502.3 125.6,498.7 126.8,492.8 128,489.3 129.2,486.9 130.4,489.3 131.5,482.2 132.7,472.7 133.9,469.2 135.1,466.8 136,465 136.9,469.2 137.5,484.6 138,499.9 138.6,507 139.2,505.8 139.8,502.3 140.4,496.4 141,490.5 142.2,483.4 143.4,481 144.6,483.4 145.7,482.2 146.9,485.7 148.1,486.9 149.6,492.8" fill="none" stroke="#A2142F" stroke-width="0.8" stroke-linejoin="round" stroke-opacity="0.6"/>
<polyline points="17.7,489.96 18.2,495.1 18.7,494.5 19.25,501.2 19.8,499.28 20.3,504.5 20.8,501.69 21.35,503.92 21.9,498.71 22.4,506.86 22.95,506.03 23.5,513.58 24,511.06 24.5,518 25.05,515.81 25.6,520.79 26.15,520.43 26.7,526.02 27.5,523.84 28.05,526.33 28.6,522.51 29.2,522.62 29.8,517.73 30.35,518.51 30.9,514.26 31.7,517.53 32.5,513.52 33.3,515.2 34.1,512.85 34.8,514.8 35.5,512.56 36.2,513.97 36.9,511.39 37.6,514.08 38.3,509.52 39.03,511.66 39.77,510.08 40.5,512.37 41.25,508.51 42,508.51 42.8,503.9 43.6,504.79 44.4,500.12 45.2,500.55 46.1,494.33 47,494.52 47.7,488.93 48.4,493.33 49.1,487.14 50,492.2 50.9,485.31 51.8,491.89 52.47,486.28 53.15,488.86 53.83,485.58 54.5,488.23 55.2,482.46 55.9,489.92 56.6,483.15 57.3,488.24 57.97,480.27 58.65,487.58 59.33,479.01 60,485.12 60.67,477.35 61.35,482.34 62.03,476.41 62.7,480.38 63.4,475.26 64.1,478.76 64.8,472.84 65.5,475.21 66.17,471.38 66.85,475.83 67.53,468.16 68.2,475.32 68.88,469.65 69.55,472.36 70.23,465.54 70.9,469.43 71.8,463.36 72.7,467.49 73.6,462.32 74.3,468.18 75,460.25 75.7,466.47 76.4,463.72 77.1,468.42 77.75,467.59 78.4,473.76 79.1,467.45 79.8,470.91 80.45,463.88 81.1,465.65 81.8,459.02 82.5,463 82.95,458.77 83.4,466.25 84.1,475.3" fill="none" stroke="#A2142F" stroke-width="0.45" stroke-linejoin="round" stroke-opacity="0.45"/>
<polyline points="87.5,479.8 88.2,475.28 88.9,484.91 89.55,479.41 90.2,478.95 90.9,474.56 91.6,477.48 92.3,470.1 93,471.37 93.65,466.51 94.3,474.19 95,468.65 95.7,476.37 96.4,467.27 97.1,469.29 97.75,466.85 98.4,474.22 99.1,469 99.8,475.73 100.45,474.25 101.1,477.65 101.8,473.8 102.5,476.77 103.2,469.89 103.9,474.25 104.55,467.92 105.2,470.54 105.9,470.35 106.6,475.26 107.3,472.14 108,479.5 108.65,476.87 109.3,483.71 110,478.11 110.7,483.58 111.6,491.06 112.15,490.27 112.7,483.9 113.4,487.77 114.1,483.74 114.8,483.47 115.5,474.67 116.2,484.76" fill="none" stroke="#A2142F" stroke-width="0.45" stroke-linejoin="round" stroke-opacity="0.45"/>
<polyline points="119.55,493.2 120,493.45 120.45,491.05 120.9,492.3 121.5,492.29 122.1,497.89 122.7,493.69 123.3,502.74 123.9,498 124.5,506.03 125.05,498.4 125.6,501.19 126.2,491.74 126.8,493.52 127.4,487.21 128,490.99 128.6,485.92 129.2,490.84 129.8,485.93 130.4,493.18 130.95,482.75 131.5,483.35 132.1,473.37 132.7,473.43 133.3,467.89 133.9,470.96 134.5,463.97 135.1,468.28 135.55,464.63 136,466.52 136.45,463.96 136.9,471.23" fill="none" stroke="#A2142F" stroke-width="0.45" stroke-linejoin="round" stroke-opacity="0.45"/>
<polyline points="141,488.22 141.6,488.13 142.2,480.3 142.8,484.61 143.4,478.44 144,483.49 144.6,481.5 145.15,486.13 145.7,479.5 146.3,485.63 146.9,483.29 147.5,488.61 148.1,483.5 148.85,492.56 149.6,491.87" fill="none" stroke="#A2142F" stroke-width="0.45" stroke-linejoin="round" stroke-opacity="0.45"/>
<polyline points="17.7,490.7 18.2,493.44 18.7,496.14 19.07,498.02 19.43,499.63 19.8,501.54 20.3,502.42 20.8,504.37 21.17,503.69 21.53,502.39 21.9,501.52 22.4,505.09 22.77,507.18 23.13,508.8 23.5,510.84 24,513.51 24.5,515.71 24.87,517.27 25.23,518.72 25.6,520.63 25.97,521.58 26.33,522.16 26.7,523.74 27.1,524.51 27.5,526.19 27.87,524.93 28.23,523.97 28.6,523.8 29,521.83 29.4,520.41 29.8,519.59 30.17,518.63 30.53,517.3 30.9,516.97 31.3,516.23 31.7,515.94 32.1,515.16 32.5,515.35 32.9,514.88 33.3,514.82 33.7,514.49 34.1,513.74 34.52,513.59 34.94,513.23 35.36,513.02 35.78,512.75 36.2,512.74 36.62,512.76 37.04,512.06 37.46,512.38 37.88,511.89 38.3,511.65 38.74,511.73 39.18,511.14 39.62,510.69 40.06,510.5 40.5,510.36 41,508.98 41.5,508.85 42,507.22 42.4,506.72 42.8,505.73 43.2,503.99 43.6,503.53 44,502.02 44.4,501.01 44.8,499.38 45.2,498.24 45.65,497.14 46.1,496.56 46.55,494.76 47,494 47.42,493.34 47.84,492.55 48.26,491.28 48.68,490.48 49.1,489.82 49.55,489.72 50,488.89 50.45,489.1 50.9,488.84 51.35,488.59 51.8,487.63 52.25,488.16 52.7,487.27 53.15,487.27 53.6,487.29 54.05,487.33 54.5,486.67 54.97,486.81 55.43,486.17 55.9,485.65 56.37,485.32 56.83,484.88 57.3,484.46 57.75,484.07 58.2,484.05 58.65,483.85 59.1,482.73 59.55,482.19 60,482.49 60.45,481.54 60.9,480.86 61.35,480.14 61.8,479.84 62.25,479.44 62.7,478.56 63.17,477.85 63.63,476.88 64.1,476.88 64.57,475.49 65.03,475.18 65.5,474.77 65.95,473.75 66.4,473.79 66.85,473.51 67.3,472.8 67.75,472.48 68.2,471.49 68.65,471.18 69.1,470.39 69.55,470.38 70,469.37 70.45,468.93 70.9,468.8 71.35,468.23 71.8,467.88 72.25,467.01 72.7,466.59 73.15,466.33 73.6,465.68 74.02,465.25 74.44,465.06 74.86,464.58 75.28,464.48 75.7,464.69 76.17,465.57 76.63,466.2 77.1,467 77.53,468.47 77.97,469.87 78.4,471.62 78.87,471.13 79.33,470.29 79.8,468.99 80.23,466.8 80.67,464.25 81.1,461.66 81.57,460.63 82.03,459.71 82.5,458.39 82.95,460.66 83.4,462.32 83.75,468.99 84.1,475.72" fill="none" stroke="#A2142F" stroke-width="0.9" stroke-linejoin="round" stroke-opacity="0.6"/>
<polyline points="87.5,475.47 87.97,478.02 88.43,480.15 88.9,482.54 89.33,480.81 89.77,479.68 90.2,478.39 90.67,477.1 91.13,475.35 91.6,474.37 92.07,472.56 92.53,470.58 93,468.98 93.43,469.9 93.87,470.48 94.3,471.42 94.77,471.57 95.23,472.54 95.7,473.05 96.17,471.32 96.63,470.12 97.1,468.78 97.53,469.72 97.97,470.2 98.4,471.62 98.87,472.36 99.33,473.33 99.8,474.04 100.23,475.1 100.67,476.12 101.1,476.91 101.57,476.54 102.03,475.56 102.5,475.23 102.97,474.09 103.43,472.89 103.9,471.18 104.33,470.62 104.77,469.64 105.2,468.23 105.67,470.41 106.13,472.05 106.6,473.74 107.07,475.17 107.53,476.69 108,477.95 108.43,478.85 108.87,479.63 109.3,480.87 109.77,481.27 110.23,481.92 110.7,482.37 111.15,487.54 111.6,493.52 111.97,490.07 112.33,487.66 112.7,484.82 113.17,485.39 113.63,485.63 114.1,486.67 114.57,483.1 115.03,479.63 115.5,476.89 115.85,479.08 116.2,482.04" fill="none" stroke="#A2142F" stroke-width="0.9" stroke-linejoin="round" stroke-opacity="0.6"/>
<polyline points="119.55,496.25 120,492.51 120.45,492.28 120.9,491.65 121.3,493.17 121.7,494.37 122.1,495.29 122.5,496.25 122.9,497.85 123.3,498.3 123.7,499.59 124.1,501.15 124.5,502.39 124.87,500.81 125.23,500 125.6,499.01 126,496.63 126.4,494.71 126.8,492.58 127.2,491.47 127.6,490.84 128,489.2 128.4,488.87 128.8,488.03 129.2,486.98 129.6,487.51 130,488.88 130.4,489.3 130.77,486.87 131.13,484.42 131.5,482.59 131.9,479.03 132.3,475.7 132.7,472.68 133.1,471.23 133.5,470.46 133.9,469.15 134.3,468.23 134.7,467.83 135.1,467.06 135.55,465.51 136,465.03 136.45,466.92 136.9,469.55 137.2,477.13" fill="none" stroke="#A2142F" stroke-width="0.9" stroke-linejoin="round" stroke-opacity="0.6"/>
<polyline points="140.7,493.14 141,490.71 141.4,487.97 141.8,485.79 142.2,483.27 142.6,482.44 143,481.82 143.4,480.97 143.8,481.69 144.2,482.8 144.6,483.47 144.97,482.63 145.33,482.4 145.7,482.16 146.1,483.7 146.5,484.84 146.9,485.74 147.3,485.71 147.7,486.72 148.1,486.84 148.6,488.93 149.1,491 149.6,492.91" fill="none" stroke="#A2142F" stroke-width="0.9" stroke-linejoin="round" stroke-opacity="0.6"/>
<polyline points="17.7,490.06 17.87,490.13 18.03,492.86 18.2,491.45 18.37,494.14 18.53,495.1 18.7,497.56 18.86,497.43 19.01,500.86 19.17,500.73 19.33,498.38 19.49,499.51 19.64,502.34 19.8,502.89 19.97,501.95 20.13,500.95 20.3,501.91 20.47,503.03 20.63,505.87 20.8,504.88 20.96,505.84 21.11,507.6 21.27,503.33 21.43,498.88 21.59,500.21 21.74,501.94 21.9,503.39 22.07,501.91 22.23,501.49 22.4,507.6 22.56,507.54 22.71,509.41 22.87,506.42 23.03,508.67 23.19,508.24 23.34,509.2 23.5,511.26 23.67,513.96 23.83,511.85 24,512.95 24.17,515.03 24.33,513.58 24.5,515.11 24.66,512.59 24.81,519.92 24.97,517.72 25.13,515.78 25.29,519.16 25.44,520.26 25.6,521.21 25.76,516.64 25.91,521.42 26.07,521.41 26.23,523.17 26.39,521.43 26.54,527.16 26.7,521.38 26.86,524.3 27.02,524.51 27.18,524.82 27.34,527.2 27.5,524.06 27.66,523.98 27.81,524.38 27.97,524.7 28.13,526.35 28.29,524.46 28.44,523.81 28.6,524.31 28.77,521.79 28.94,524.43 29.11,521.08 29.29,521.24 29.46,520.56 29.63,520.82 29.8,518.09 29.96,518.29 30.11,519.38 30.27,518.43 30.43,518.51 30.59,518.68 30.74,518.06 30.9,516.68 31.08,516.31 31.26,516.29 31.43,515.52 31.61,515.64 31.79,514.98 31.97,514.84 32.14,517.13 32.32,513.12 32.5,514.34 32.68,513.43 32.86,514.55 33.03,514.29 33.21,513.48 33.39,515.35 33.57,512.03 33.74,514.57 33.92,514 34.1,514.49 34.27,512.44 34.45,515 34.62,513.81 34.8,512.88 34.98,514.06 35.15,512.79 35.33,513.59 35.5,512.79 35.68,512.18 35.85,511.82 36.03,513.27 36.2,511.87 36.38,512.94 36.55,513.34 36.73,509.28 36.9,513.4 37.08,511.38 37.25,513.11 37.42,511.82 37.6,515.72 37.77,511.47 37.95,511.65 38.12,512.71 38.3,512.46 38.47,512.66 38.64,510.43 38.81,511.7 38.98,511.53 39.15,511.96 39.32,510.91 39.48,513.12 39.65,511.1 39.82,510.27 39.99,509.98 40.16,510.03 40.33,507.78 40.5,510.4 40.67,510.31 40.83,510.4 41,509.56 41.17,508.89 41.33,508.62 41.5,508.3 41.67,507.1 41.83,507.02 42,507.22 42.18,507.01 42.36,507.32 42.53,505.64 42.71,506.99 42.89,504.23 43.07,503.81 43.24,504.9 43.42,506.83 43.6,499.75 43.78,502.46 43.96,501.77 44.13,501.82 44.31,500.64 44.49,498.04 44.67,499.4 44.84,498.64 45.02,499.72 45.2,497.3 45.38,496.78 45.56,496.31 45.74,497.06 45.92,496.91 46.1,496.29 46.28,495.42 46.46,494.81 46.64,492.35 46.82,494.06 47,491.97 47.17,493.18 47.35,494.65 47.52,493.19 47.7,493.68 47.88,494.48 48.05,493.61 48.23,484.76 48.4,491.73 48.58,497.53 48.75,494.21 48.93,487.71 49.1,496.53 49.28,488.52 49.46,487.82 49.64,485.33 49.82,491.37 50,492.5 50.18,493.43 50.36,494.69 50.54,488.24 50.72,485.24 50.9,487.73 51.08,489.07 51.26,486.78 51.44,488.92 51.62,487.78 51.8,487.81 51.97,490.94 52.14,490.25 52.31,485.43 52.47,487.62 52.64,485.8 52.81,481.45 52.98,487.44 53.15,489.18 53.32,487.12 53.49,489.33 53.66,488.16 53.83,481.63 53.99,485.28 54.16,481.65 54.33,489.36 54.5,486.86 54.67,487.79 54.85,486.53 55.02,488.44 55.2,484.51 55.38,487.09 55.55,484.29 55.73,484.35 55.9,484.16 56.07,485.71 56.25,483.92 56.42,488.23 56.6,481.58 56.77,486.6 56.95,484.62 57.12,486.85 57.3,487.32 57.47,484.3 57.64,485.59 57.81,484.02 57.97,482.98 58.14,483 58.31,482.49 58.48,486.05 58.65,484.37 58.82,485.08 58.99,481.44 59.16,478.83 59.33,481.75 59.49,478.02 59.66,484.14 59.83,480.66 60,484.42 60.17,480.69 60.34,481.38 60.51,480.29 60.67,479.77 60.84,480.38 61.01,480.43 61.18,481.02 61.35,478.92 61.52,481.16 61.69,480.23 61.86,480.38 62.03,478.5 62.19,480.54 62.36,482.15 62.53,478.17 62.7,476.61 62.88,477.73 63.05,477.64 63.23,478.68 63.4,475.72 63.58,476.84 63.75,480.86 63.93,476.9 64.1,476.12 64.28,477.1 64.45,473.84 64.62,482.51 64.8,481.23 64.97,474.28 65.15,474.82 65.33,473.83 65.5,470.71 65.67,474.16 65.84,474.88 66.01,474.05 66.17,472.87 66.34,472.7 66.51,471.94 66.68,474.49 66.85,471.82 67.02,470.86 67.19,473.17 67.36,471.21 67.53,472.53 67.69,473.82 67.86,471.22 68.03,472.72 68.2,475.1 68.37,471.89 68.54,473.8 68.71,466.78 68.88,470.66 69.04,472.01 69.21,468.28 69.38,472.84 69.55,468.05 69.72,470.24 69.89,462.94 70.06,469.85 70.23,474.94 70.39,470.04 70.56,468.67 70.73,468.42 70.9,471.98 71.08,468.11 71.26,461.31 71.44,473.52 71.62,463.5 71.8,463.07 71.98,466.93 72.16,466.42 72.34,465.75 72.52,466.88 72.7,466.71 72.88,466.46 73.06,465.71 73.24,464.65 73.42,465.79 73.6,464.26 73.77,467.95 73.95,463.94 74.12,471.15 74.3,464.94 74.47,467.47 74.65,465.52 74.83,464.14 75,460.87 75.17,469.84 75.35,464.56 75.53,464.28 75.7,463.64 75.88,465.6 76.05,467.74 76.22,467.26 76.4,469.31 76.58,464.06 76.75,473.06 76.92,468.89 77.1,467.35 77.26,472.11 77.42,468.02 77.59,466.08 77.75,468.8 77.91,474.61 78.08,477.33 78.24,477.16 78.4,470.76 78.58,468.7 78.75,474.57 78.92,469.7 79.1,470.02 79.28,464.94 79.45,468.96 79.62,468.74 79.8,472.98 79.96,468.43 80.12,466.79 80.29,465.05 80.45,459.71 80.61,465.15 80.77,461.94 80.94,465.4 81.1,460.65 81.27,463.85 81.45,461.59 81.62,459.85 81.8,459.88 81.97,461.19 82.15,458.72 82.33,458.76 82.5,458.59 82.65,460.7 82.8,456.99 82.95,456.15 83.1,460.24 83.25,467.65 83.4,462.54 83.58,459.25 83.75,466.82 83.92,468.18 84.1,475.84" fill="none" stroke="#A2142F" stroke-width="0.5" stroke-linejoin="round" stroke-opacity="0.92"/>
<polyline points="87.33,478.77 87.5,475.94 87.67,476 87.85,476.29 88.03,479.46 88.2,480.02 88.38,479.44 88.55,480.93 88.73,478.47 88.9,480.2 89.06,480.36 89.23,484.25 89.39,479.93 89.55,478.13 89.71,479.16 89.88,477.99 90.04,478.82 90.2,476.24 90.38,476.51 90.55,478.59 90.72,476.33 90.9,475.15 91.08,475.55 91.25,476.29 91.42,475.64 91.6,474.61 91.77,471.68 91.95,466.82 92.12,476.21 92.3,471.35 92.47,472.16 92.65,471.26 92.83,470.24 93,469.26 93.16,462.59 93.33,468.97 93.49,468.51 93.65,469.83 93.81,472.14 93.97,464.34 94.14,474.41 94.3,468.5 94.47,474.28 94.65,473.25 94.83,475.71 95,471.08 95.17,476.82 95.35,472.02 95.53,478.87 95.7,466.34 95.88,473.65 96.05,471.85 96.22,474.49 96.4,467.14 96.58,469.08 96.75,465.56 96.92,468.34 97.1,470.78 97.26,467.44 97.42,462.94 97.59,476.01 97.75,469.01 97.91,470.92 98.08,471.97 98.24,473.29 98.4,469.28 98.58,470.24 98.75,471.7 98.92,473.1 99.1,476.33 99.28,472.82 99.45,473.6 99.62,475.59 99.8,472.83 99.96,475.73 100.12,473.97 100.29,474.56 100.45,474.28 100.61,475.05 100.77,477.9 100.94,475.34 101.1,479.29 101.27,477.45 101.45,477.92 101.62,477.89 101.8,475.88 101.97,479.06 102.15,476.93 102.33,471.4 102.5,476.06 102.67,472.22 102.85,474.73 103.03,472.78 103.2,474.16 103.38,471.98 103.55,473.42 103.73,473.42 103.9,472.3 104.06,470.74 104.23,470.5 104.39,473.9 104.55,472.21 104.71,470.22 104.88,471.29 105.04,467.89 105.2,470.87 105.38,466.29 105.55,469.02 105.72,474.35 105.9,470.53 106.08,473.98 106.25,473.56 106.42,472.23 106.6,473.54 106.77,476.55 106.95,473.21 107.12,476.9 107.3,478.32 107.47,476.78 107.65,480.76 107.83,479.67 108,479.14 108.16,476.86 108.33,480.81 108.49,481.8 108.65,475.74 108.81,481.1 108.97,479.86 109.14,484.28 109.3,480.93 109.47,482.87 109.65,479.95 109.83,483.64 110,481.19 110.17,480.12 110.35,482.68 110.53,477.33 110.7,481.41 110.88,482.66 111.06,489.59 111.24,493 111.42,494.49 111.6,488.96 111.76,492.68 111.91,490.78 112.07,490.49 112.23,483.73 112.39,486.09 112.54,483.63 112.7,484.99 112.88,485.15 113.05,485.43 113.22,484.56 113.4,486.35 113.58,492.23 113.75,484.85 113.92,485.17 114.1,487.04 114.27,485.38 114.45,483.35 114.62,482.25 114.8,484.03 114.97,486.76 115.15,473.49 115.33,477.08 115.5,474.55 115.67,480.16 115.85,479.85 116.03,480.01 116.2,479.99 116.37,486.09 116.54,485.82" fill="none" stroke="#A2142F" stroke-width="0.5" stroke-linejoin="round" stroke-opacity="0.92"/>
<polyline points="119.4,497.77 119.55,496.26 119.7,493.03 119.85,493.27 120,493.05 120.15,495.13 120.3,495.62 120.45,491.88 120.6,493.41 120.75,495.3 120.9,492.22 121.07,491.34 121.24,494.17 121.41,490.8 121.59,494.67 121.76,493.49 121.93,493.69 122.1,493.82 122.27,494.45 122.44,499.61 122.61,492.41 122.79,493.53 122.96,498.19 123.13,504.18 123.3,497.94 123.47,499.86 123.64,501.87 123.81,505.12 123.99,500.87 124.16,500.61 124.33,502.18 124.5,499.69 124.66,499.57 124.81,501.74 124.97,498.77 125.13,497.61 125.29,493.74 125.44,501.36 125.6,498.59 125.77,497.95 125.94,498.83 126.11,494.12 126.29,495.61 126.46,495.39 126.63,491.59 126.8,492.53 126.97,487.09 127.14,493.68 127.31,492.26 127.49,491.55 127.66,488.86 127.83,490.04 128,494.06 128.17,489.06 128.34,487.68 128.51,488.12 128.69,488.29 128.86,485.31 129.03,483.71 129.2,485.99 129.37,491.69 129.54,487.69 129.71,491.11 129.89,488.26 130.06,488.57 130.23,494.44 130.4,488.17 130.56,487.57 130.71,487.15 130.87,484.59 131.03,485.08 131.19,484.55 131.34,483.36 131.5,488.18 131.67,481.33 131.84,478.07 132.01,484.11 132.19,473.73 132.36,476.81 132.53,470.19 132.7,471.38 132.87,473.15 133.04,472.31 133.21,473.23 133.39,471.91 133.56,464.22 133.73,471.94 133.9,466.86 134.07,470.09 134.24,466.51 134.41,468.77 134.59,468.52 134.76,467.31 134.93,465.55 135.1,467 135.25,472.48 135.4,466.24 135.55,465.22 135.7,465.09 135.85,464.65 136,467.1 136.15,465.84 136.3,466.18 136.45,468.75 136.6,466.59 136.75,470.33 136.9,463.22 137.05,473.4 137.2,476.72" fill="none" stroke="#A2142F" stroke-width="0.5" stroke-linejoin="round" stroke-opacity="0.92"/>
<polyline points="140.55,493.15 140.7,495.55 140.85,493.59 141,492.03 141.17,490.12 141.34,488.46 141.51,488.57 141.69,487.43 141.86,490.64 142.03,485.74 142.2,484.91 142.37,484.36 142.54,486.92 142.71,484.08 142.89,482.52 143.06,484.78 143.23,482.5 143.4,481.41 143.57,480.5 143.74,479.38 143.91,481.66 144.09,486.47 144.26,479.45 144.43,482.83 144.6,483.39 144.76,480.49 144.91,482.18 145.07,485.23 145.23,486.14 145.39,483.64 145.54,484.92 145.7,479.37 145.87,485.12 146.04,485.08 146.21,483.11 146.39,489.81 146.56,484.15 146.73,484.63 146.9,485.21 147.07,486.92 147.24,485 147.41,487.69 147.59,486.18 147.76,488.85 147.93,486.54 148.1,487.44 148.27,487.93 148.43,486.35 148.6,490.82 148.77,490.38 148.93,488.86 149.1,493.18 149.27,493.75 149.43,492.32 149.6,492.57" fill="none" stroke="#A2142F" stroke-width="0.5" stroke-linejoin="round" stroke-opacity="0.92"/>
<rect x="124.4" y="455.6" width="21.1" height="5.6" fill="#fff" stroke="#c8c8c8" stroke-width="0.5"/>
<line x1="125.2" y1="458.6" x2="130.3" y2="458.6" stroke="#A2142F" stroke-width="0.5" stroke-opacity="0.6"/>
<text x="131" y="460.2" font-size="4.4" fill="#444">1-order</text>
<polyline points="188.9,477 189.6,488 190.8,494.1 192.1,491.7 193.3,492.9 194.5,497.7 195.7,503.8 197.5,509.8 198.7,514.1 199.9,506 201.2,498 203.6,492.6 207.3,490.2 210.9,487.7 214.5,484.1 218.2,480.5 220.6,480.5 223,482.9 225.5,485.3 227.3,486.5 229.1,482.9 231.5,479.2 233.9,475.6 236.4,470.8 238.8,468.3 240.4,467.1 242.3,464.5 244.2,465.8 245.4,467.1 246.7,469.6 248,472.2 249.3,473.4 250.5,470.9 251.8,467.1 253.3,462 254.1,463.3 255,473.4 255.9,492.5 256.6,510.3 257.5,498.9 258.4,479.8 259.4,473.4 260.7,475 262.4,470.3 264.5,467 266.7,473.5 268.9,474.6 271.1,476.3 273.3,476.8 275.4,477.9 277.6,479 279.8,481.2 281.2,483 281.4,500 281.6,483.4 283.1,485.5 284.7,482.3 285.8,478.5 286.9,480.5 287.6,486 288.5,501.1 289,506.8 289.8,498.8 290.8,487.3 291.9,489.6 293.6,491.9 295.4,494.2 297.1,489.6 298.2,485 299.4,483.8 301.1,487.3 302.3,482.6 303.4,478 304.6,474.6 305.7,472.3 306.9,468.8 307.8,474.6 308.6,487.3 309.2,501.1 309.8,506.8 310.3,495.3 311.5,491.9 312.6,486.1 313.8,483.8 315,485 316.1,486.1 317.3,487.3 318.4,488.4 319.6,491.9 320.6,494.2" fill="none" stroke="#A2142F" stroke-width="0.8" stroke-linejoin="round" stroke-opacity="0.6"/>
<polyline points="188.9,475.59 189.6,490.72 190.2,490.29 190.8,495.43 191.45,491.27 192.1,494.78 192.7,490.79 193.3,495.11 193.9,494.5 194.5,498.7 195.1,498.23 195.7,505.9 196.3,503.22 196.9,509.58 197.5,507.89 198.1,513.03 198.7,512.95 199.3,510.7 199.9,505.01 200.55,504.49 201.2,494.94 202,499.84 202.8,491.14 203.6,496.55 204.34,488.49 205.08,492.38 205.82,486.93 206.56,493.36 207.3,487.77 208.2,490.63 209.1,487.64 210,489.29 210.9,486.63 211.8,490.63 212.7,483.71 213.6,488.8 214.5,479.48 215.24,486.56 215.98,481.14 216.72,483.27 217.46,476.68 218.2,483.16 219,478.46 219.8,485 220.6,479.12 221.4,485.49 222.2,481.36 223,485.34 223.83,481.66 224.67,489.07 225.5,482.79 226.1,489.65 226.7,480.88 227.3,490.77 228.2,479.36 229.1,488.17 229.9,480.37 230.7,482.1 231.5,476.1 232.3,481.02 233.1,471.53 233.9,477.29 234.73,467.83 235.57,477.64 236.4,466.41 237.2,472.28 238,464.05 238.8,472.98 239.6,462.19 240.4,469.64 241.03,461.11 241.67,467.38 242.3,461.16 242.93,466.6 243.57,463.04 244.2,471.75 244.8,460.22 245.4,468.86 246.05,463.98 246.7,470.56 247.35,468.06 248,475.46 248.65,470.64 249.3,474.57 249.9,467.66 250.5,476.61 251.15,467 251.8,470.01 252.55,459.67 253.3,466.73 254.1,458.64 254.55,470.97 255,473.03" fill="none" stroke="#A2142F" stroke-width="0.45" stroke-linejoin="round" stroke-opacity="0.45"/>
<polyline points="258.4,485.26 258.9,472.86 259.4,476.68 260.05,470.04 260.7,479.62 261.55,471.02 262.4,472.04 263.1,466.63 263.8,469.62 264.5,462.73 265.23,470.74 265.97,467.46 266.7,477.37 267.43,469.37 268.17,478.94 268.9,471.18 269.63,476.92 270.37,470.5 271.1,480.2 271.83,473.17 272.57,481.71 273.3,471.98 274,480.9 274.7,474.77 275.4,479.77 276.13,477.14 276.87,479.71 277.6,478.03 278.33,483.89 279.07,478.97 279.8,485.44 280.5,479.89 281.2,484.81 281.4,494.48 281.6,486.05 282.35,483.1 283.1,489.51 283.9,479.85 284.7,487.77 285.25,475.69 285.8,481.24 286.35,475.8 286.9,482.21 287.6,483.5" fill="none" stroke="#A2142F" stroke-width="0.45" stroke-linejoin="round" stroke-opacity="0.45"/>
<polyline points="290.8,489.65 291.35,484.29 291.9,492.08 292.75,489.24 293.6,493.7 294.5,491.81 295.4,497.92 296.25,489.87 297.1,490.6 297.65,486.29 298.2,487.71 298.8,479.99 299.4,485.54 300.25,481.38 301.1,491.39 301.7,483.87 302.3,484.57 302.85,475.74 303.4,481.91 304,472.89 304.6,475.42 305.15,471.68 305.7,476.05 306.3,469.21 306.9,470.41 307.35,470.64 307.8,477.49" fill="none" stroke="#A2142F" stroke-width="0.45" stroke-linejoin="round" stroke-opacity="0.45"/>
<polyline points="310.9,489.43 311.5,493.5 312.05,486.89 312.6,489.69 313.2,483.51 313.8,486.38 314.4,483.14 315,487.11 315.55,482.99 316.1,486.92 316.7,482.7 317.3,489.59 317.85,486.88 318.4,489.42 319,488.49 319.6,492.8 320.1,489.73 320.6,495.65" fill="none" stroke="#A2142F" stroke-width="0.45" stroke-linejoin="round" stroke-opacity="0.45"/>
<polyline points="188.9,477.1 189.25,482.69 189.6,488.24 190,490.39 190.4,492.26 190.8,494.44 191.23,492.92 191.67,492.47 192.1,492.05 192.5,492.22 192.9,492.82 193.3,492.59 193.7,494.48 194.1,495.9 194.5,497.74 194.9,499.79 195.3,501.38 195.7,503.57 196.15,505.12 196.6,507.13 197.05,508.51 197.5,509.53 197.9,511.47 198.3,512.38 198.7,514.19 199.1,511.1 199.5,508.3 199.9,506.3 200.33,503.1 200.77,500.44 201.2,498.39 201.68,497.22 202.16,495.67 202.64,495.13 203.12,493.71 203.6,492.74 204.06,492.06 204.53,492.35 204.99,491.85 205.45,491.77 205.91,491.41 206.38,490.64 206.84,490.39 207.3,489.93 207.75,489.6 208.2,489.23 208.65,489.1 209.1,489.03 209.55,488.24 210,488.47 210.45,487.88 210.9,487.55 211.35,487.5 211.8,486.78 212.25,486.2 212.7,485.88 213.15,485.61 213.6,484.65 214.05,484.93 214.5,483.72 214.96,483.85 215.43,483.48 215.89,482.36 216.35,482.53 216.81,481.74 217.27,481.46 217.74,480.56 218.2,480.14 218.68,480.24 219.16,480.86 219.64,480.26 220.12,480.7 220.6,480.84 221.08,481.33 221.56,481.34 222.04,481.82 222.52,482.44 223,483.12 223.5,483.07 224,484.06 224.5,484.58 225,485.11 225.5,484.93 225.95,485.96 226.4,485.57 226.85,486.07 227.3,486.59 227.75,485.93 228.2,484.57 228.65,484.14 229.1,482.94 229.58,482.01 230.06,481.27 230.54,480.42 231.02,479.6 231.5,478.92 231.98,478.63 232.46,478.16 232.94,476.77 233.42,475.96 233.9,475.99 234.4,474.67 234.9,473.6 235.4,472.51 235.9,471.84 236.4,471.06 236.88,470.26 237.36,469.74 237.84,468.94 238.32,469.13 238.8,467.93 239.2,467.99 239.6,467.97 240,467.1 240.4,467.29 240.88,466.81 241.35,465.9 241.83,465.38 242.3,464.19 242.78,464.77 243.25,464.87 243.72,465.75 244.2,465.64 244.6,466.2 245,467.07 245.4,467.38 245.83,468.31 246.27,468.73 246.7,469.59 247.13,470.65 247.57,471.32 248,472.03 248.43,472.52 248.87,472.72 249.3,473.3 249.7,472.96 250.1,472.1 250.5,471 250.93,469.63 251.37,468.24 251.8,466.77 252.3,465.22 252.8,463.93 253.3,462.29 253.7,462.54 254.1,463.53 254.55,468.57 255,473.56" fill="none" stroke="#A2142F" stroke-width="0.9" stroke-linejoin="round" stroke-opacity="0.6"/>
<polyline points="258.4,479.95 258.9,476.44 259.4,473.76 259.83,474.05 260.27,474.53 260.7,474.61 261.12,473.86 261.55,472.45 261.97,471.61 262.4,470.27 262.82,469.89 263.24,469.1 263.66,468.56 264.08,467.54 264.5,467.12 264.94,468.49 265.38,469.86 265.82,470.78 266.26,472.47 266.7,473.8 267.14,473.87 267.58,474.32 268.02,474.53 268.46,474.39 268.9,474.62 269.34,474.67 269.78,475.55 270.22,475.97 270.66,475.94 271.1,476.45 271.54,476.58 271.98,476.68 272.42,476.34 272.86,476.92 273.3,476.86 273.72,477.15 274.14,477.18 274.56,477.56 274.98,477.9 275.4,478.01 275.84,478.3 276.28,477.96 276.72,478.29 277.16,478.73 277.6,479.12 278.04,479.22 278.48,480.03 278.92,480.42 279.36,480.39 279.8,481.18 280.27,481.58 280.73,482.04 281.2,482.71 281.4,499.85 281.6,483.15 282.1,483.85 282.6,484.43 283.1,485.47 283.5,484.6 283.9,483.99 284.3,483.17 284.7,482.09 285.07,481.36 285.43,479.37 285.8,478.42 286.17,478.99 286.53,479.76 286.9,480.19 287.25,483.52 287.6,485.9" fill="none" stroke="#A2142F" stroke-width="0.9" stroke-linejoin="round" stroke-opacity="0.6"/>
<polyline points="290.8,487.67 291.17,488.32 291.53,488.77 291.9,489.85 292.32,490.29 292.75,490.65 293.18,491.04 293.6,491.98 294.05,492.53 294.5,493.42 294.95,494 295.4,494.29 295.82,492.93 296.25,492.21 296.68,490.35 297.1,489.29 297.47,488.12 297.83,486.63 298.2,484.71 298.6,484.7 299,484.51 299.4,483.7 299.82,484.62 300.25,485.33 300.68,486.26 301.1,487.68 301.5,485.64 301.9,484.54 302.3,482.93 302.67,481.14 303.03,479.34 303.4,478.38 303.8,476.86 304.2,475.67 304.6,474.46 304.97,474.22 305.33,473.06 305.7,472.13 306.1,471.11 306.5,469.66 306.9,468.9 307.35,471.65 307.8,474.43 308.2,481.18" fill="none" stroke="#A2142F" stroke-width="0.9" stroke-linejoin="round" stroke-opacity="0.6"/>
<polyline points="310.7,493.96 311.1,492.85 311.5,491.62 311.87,490.36 312.23,487.87 312.6,486.19 313,485.31 313.4,484.68 313.8,483.88 314.2,484.39 314.6,484.29 315,485.21 315.37,485.21 315.73,485.76 316.1,485.97 316.5,486.34 316.9,486.92 317.3,487.27 317.67,487.56 318.03,488.23 318.4,488.47 318.8,489.2 319.2,490.54 319.6,491.86 320.1,493.38 320.6,494.51" fill="none" stroke="#A2142F" stroke-width="0.9" stroke-linejoin="round" stroke-opacity="0.6"/>
<polyline points="188.9,477.92 189.07,480.54 189.25,483.17 189.43,486.81 189.6,487.89 189.77,487.08 189.94,488.56 190.11,491.72 190.29,494.34 190.46,492.72 190.63,492.67 190.8,496.87 190.96,494.13 191.12,495.08 191.29,494.84 191.45,491.93 191.61,493.42 191.78,492.24 191.94,490.65 192.1,489.81 192.27,493.51 192.44,493.68 192.61,491.65 192.79,493.33 192.96,494.15 193.13,487.87 193.3,493.6 193.47,492.58 193.64,492.53 193.81,494.44 193.99,497.09 194.16,495.54 194.33,494.86 194.5,499.28 194.67,499.77 194.84,502.89 195.01,500.69 195.19,499.67 195.36,502.67 195.53,502.86 195.7,503.26 195.86,502.02 196.03,505.13 196.19,504.48 196.35,505.76 196.52,506.27 196.68,506.78 196.85,502.76 197.01,508 197.17,513.57 197.34,510.43 197.5,509.88 197.67,511.02 197.84,511.51 198.01,511.02 198.19,511.71 198.36,512.23 198.53,514.22 198.7,511.72 198.87,512.58 199.04,511.51 199.21,509.3 199.39,509.89 199.56,509.58 199.73,511.91 199.9,505.35 200.06,505.51 200.22,503.33 200.39,501.94 200.55,502.98 200.71,499.79 200.88,499.12 201.04,499.55 201.2,497.61 201.37,497.44 201.54,500.31 201.71,494.32 201.89,498.26 202.06,496.42 202.23,497.2 202.4,495.38 202.57,494.3 202.74,492.56 202.91,494.84 203.09,493.94 203.26,493.77 203.43,492.81 203.6,492.63 203.78,492.55 203.95,488.5 204.13,489.86 204.3,493.81 204.48,493.23 204.66,490.19 204.83,490.83 205.01,491.2 205.19,493.92 205.36,490.55 205.54,489.71 205.71,492.78 205.89,491.42 206.07,495.65 206.24,490.74 206.42,489.38 206.6,488.51 206.77,497.27 206.95,490.45 207.12,495.65 207.3,491.59 207.48,490.5 207.66,488.19 207.84,489.39 208.02,490.29 208.2,487.86 208.38,488.03 208.56,482.59 208.74,487.72 208.92,489.94 209.1,494.53 209.28,490.91 209.46,487.36 209.64,491.64 209.82,488.7 210,487.23 210.18,485.68 210.36,492.98 210.54,487.22 210.72,484.14 210.9,488.1 211.08,485.71 211.26,489.69 211.44,484.7 211.62,487.19 211.8,490.95 211.98,486.1 212.16,487.68 212.34,485.67 212.52,486.98 212.7,486.75 212.88,484.17 213.06,485.84 213.24,481.84 213.42,485.84 213.6,485.97 213.78,483.26 213.96,484.78 214.14,486.57 214.32,485.15 214.5,477.37 214.68,483.05 214.85,481.23 215.03,477.86 215.2,481.01 215.38,481.67 215.56,483.59 215.73,480.7 215.91,486.24 216.09,482.36 216.26,485.04 216.44,485.79 216.61,483.44 216.79,478.77 216.97,482.49 217.14,483.22 217.32,478.55 217.5,484.77 217.67,478.23 217.85,482.54 218.02,482.85 218.2,483.01 218.37,480.33 218.54,478.25 218.71,480.9 218.89,478.78 219.06,480.25 219.23,481.49 219.4,482.95 219.57,479.23 219.74,479.29 219.91,481.23 220.09,480.77 220.26,479.94 220.43,480.74 220.6,480.89 220.77,483.98 220.94,480.31 221.11,479.43 221.29,484.28 221.46,482.76 221.63,480.79 221.8,482.45 221.97,481.19 222.14,478.49 222.31,480.82 222.49,481.51 222.66,480.28 222.83,479.87 223,481.25 223.18,481.5 223.36,483.57 223.54,481.21 223.71,476.85 223.89,483.41 224.07,482.33 224.25,484.59 224.43,484.21 224.61,485.84 224.79,480.73 224.96,482.93 225.14,483.71 225.32,479.49 225.5,486.62 225.66,485.57 225.83,492.25 225.99,483.19 226.15,491.62 226.32,487.5 226.48,488.52 226.65,487.19 226.81,485.86 226.97,486.19 227.14,488.01 227.3,485.76 227.48,484.13 227.66,482.99 227.84,486.04 228.02,476.08 228.2,486.57 228.38,487.01 228.56,488.87 228.74,480.39 228.92,486.59 229.1,485.93 229.27,484.04 229.44,480.78 229.61,482.74 229.79,472.87 229.96,484.64 230.13,481.95 230.3,481.97 230.47,481.86 230.64,481.06 230.81,479.5 230.99,483.03 231.16,481.67 231.33,479.45 231.5,481.99 231.67,478.53 231.84,475.32 232.01,479.06 232.19,480.04 232.36,474.24 232.53,486 232.7,477.32 232.87,481.86 233.04,478.64 233.21,479.03 233.39,473.91 233.56,477.61 233.73,476.7 233.9,471.2 234.08,472.66 234.26,474.38 234.44,475.05 234.61,476.07 234.79,472.33 234.97,475.31 235.15,475.2 235.33,473.23 235.51,471.87 235.69,470.69 235.86,474.86 236.04,471.97 236.22,473.04 236.4,469.06 236.57,471.53 236.74,472.96 236.91,478.75 237.09,461.11 237.26,466.4 237.43,469.09 237.6,475.01 237.77,469.52 237.94,464.49 238.11,466.35 238.29,464.2 238.46,469.24 238.63,470.83 238.8,469.22 238.98,463.56 239.16,471.46 239.33,466.81 239.51,468.71 239.69,467.63 239.87,464.58 240.04,469.3 240.22,467.02 240.4,462.84 240.57,466.67 240.75,465.02 240.92,468.86 241.09,470.39 241.26,465.69 241.44,469.37 241.61,465.81 241.78,470.13 241.95,460.3 242.13,464.62 242.3,465.29 242.47,459.6 242.65,458.76 242.82,469.07 242.99,464 243.16,466.22 243.34,463.09 243.51,458.75 243.68,465.11 243.85,457.78 244.03,464.27 244.2,463.11 244.37,467.45 244.54,463.05 244.71,470.47 244.89,469.86 245.06,467.08 245.23,467.29 245.4,465.21 245.56,467.51 245.72,468.92 245.89,466.19 246.05,468.74 246.21,471.93 246.38,472.36 246.54,467.63 246.7,474.24 246.86,468.48 247.02,466.95 247.19,470.62 247.35,472.58 247.51,471.19 247.68,467.52 247.84,468.9 248,475.15 248.16,468.69 248.32,472.38 248.49,473.47 248.65,469.17 248.81,471.13 248.98,480.55 249.14,475.51 249.3,477.5 249.47,471.03 249.64,473.89 249.81,471.61 249.99,471.23 250.16,474.11 250.33,475.02 250.5,470.31 250.66,472.53 250.82,472.27 250.99,471.6 251.15,468.51 251.31,470.31 251.48,466.98 251.64,462.89 251.8,469.79 251.97,471.21 252.13,460.37 252.3,462.36 252.47,473.81 252.63,456.47 252.8,465.57 252.97,466.29 253.13,465.45 253.3,466.73 253.46,458.95 253.62,461.1 253.78,462.71 253.94,456.63 254.1,465.76 254.25,471.05 254.4,467.31 254.55,468.64 254.7,461.56 254.85,472.45 255,473.51" fill="none" stroke="#A2142F" stroke-width="0.5" stroke-linejoin="round" stroke-opacity="0.92"/>
<polyline points="258.22,483.01 258.4,480.64 258.57,478.55 258.73,477.21 258.9,477.68 259.07,470.74 259.23,467.36 259.4,474.27 259.56,469.41 259.72,470.48 259.89,478.2 260.05,474.19 260.21,479.33 260.38,473.51 260.54,476.11 260.7,474.98 260.87,482.76 261.04,473.43 261.21,477.26 261.38,471.44 261.55,471.45 261.72,474.57 261.89,479.35 262.06,471.26 262.23,479 262.4,470.06 262.57,469.53 262.75,465.78 262.92,469.64 263.1,470.61 263.27,467.75 263.45,466.68 263.62,462.42 263.8,473.01 263.98,468.97 264.15,467.29 264.32,467.21 264.5,468.67 264.67,464.51 264.84,469.45 265.01,460.27 265.18,468.76 265.35,467.25 265.52,463.5 265.68,470.76 265.85,473.55 266.02,470.94 266.19,472.06 266.36,480.73 266.53,473.54 266.7,476.64 266.87,475.18 267.04,473.78 267.21,473.43 267.38,474.56 267.55,475.64 267.72,468.07 267.88,473.92 268.05,473.46 268.22,476.02 268.39,475.42 268.56,474.23 268.73,471.16 268.9,474.84 269.07,474.23 269.24,473.42 269.41,477.53 269.58,478.21 269.75,473.83 269.92,476.06 270.08,478.02 270.25,472.33 270.42,474.85 270.59,476.1 270.76,476.25 270.93,474.95 271.1,476.5 271.27,478.17 271.44,474.46 271.61,477.14 271.78,472.71 271.95,476.45 272.12,476.73 272.28,476.27 272.45,472.13 272.62,475.72 272.79,477.11 272.96,476.02 273.13,476.81 273.3,475.79 273.48,477.26 273.65,476.87 273.82,476.63 274,476.84 274.18,477.46 274.35,478.44 274.52,477.6 274.7,473.13 274.88,478.7 275.05,475.94 275.22,469.58 275.4,477.05 275.57,476.64 275.74,475.22 275.91,478.85 276.08,479.96 276.25,480.43 276.42,480.76 276.58,470.27 276.75,480.18 276.92,480.94 277.09,475.69 277.26,478.9 277.43,478.06 277.6,485.72 277.77,473.29 277.94,479.84 278.11,478.4 278.28,473.79 278.45,480.06 278.62,476.83 278.78,488.41 278.95,480.82 279.12,483.02 279.29,480.65 279.46,479.83 279.63,479.35 279.8,483.9 279.98,475.38 280.15,482.52 280.32,486.02 280.5,479.21 280.68,480.88 280.85,485.25 281.02,485.2 281.2,483.51 281.3,490.69 281.4,500.09 281.5,492.74 281.6,480.09 281.77,481.49 281.93,482.18 282.1,484.62 282.27,484.41 282.43,482.36 282.6,477.59 282.77,482.68 282.93,486.65 283.1,486.39 283.28,486.82 283.46,482.47 283.63,479.49 283.81,480.86 283.99,479.1 284.17,483.23 284.34,483.11 284.52,486.06 284.7,486.66 284.86,475.59 285.01,482.38 285.17,481.45 285.33,477.12 285.49,478.2 285.64,477.02 285.8,478 285.96,484.67 286.11,484.12 286.27,480.49 286.43,476.91 286.59,477.97 286.74,479.12 286.9,479.79 287.07,483.68 287.25,484.13 287.43,491.88 287.6,485.57 287.78,488.41 287.96,488.48" fill="none" stroke="#A2142F" stroke-width="0.5" stroke-linejoin="round" stroke-opacity="0.92"/>
<polyline points="290.47,488.5 290.63,486.83 290.8,486.23 290.96,489.36 291.11,488.84 291.27,486.56 291.43,484.5 291.59,495.39 291.74,488.45 291.9,489.26 292.07,489.36 292.24,489.99 292.41,487.45 292.58,488.29 292.75,489.72 292.92,494.03 293.09,491.69 293.26,490.8 293.43,490.31 293.6,489.68 293.78,493.3 293.96,490.98 294.14,491.66 294.32,490.24 294.5,494.17 294.68,493.85 294.86,496.06 295.04,492.7 295.22,490.21 295.4,490.91 295.57,489.12 295.74,491.84 295.91,490.55 296.08,492.24 296.25,492.24 296.42,493.58 296.59,492.59 296.76,488.74 296.93,491.41 297.1,490.98 297.26,492.38 297.41,485.78 297.57,490.83 297.73,483.17 297.89,489.39 298.04,488.36 298.2,491.44 298.37,491.93 298.54,483.61 298.71,481.58 298.89,486.56 299.06,482.46 299.23,482.28 299.4,481.86 299.57,487.24 299.74,481.82 299.91,482.2 300.08,482.34 300.25,485.52 300.42,482.95 300.59,487.17 300.76,486.69 300.93,487.3 301.1,486.35 301.27,483.31 301.44,486.48 301.61,490.92 301.79,478.53 301.96,485.37 302.13,488.17 302.3,482.15 302.46,482.58 302.61,482.72 302.77,481.83 302.93,482.5 303.09,486.42 303.24,482.01 303.4,476.61 303.57,479.93 303.74,484.13 303.91,476.74 304.09,476.83 304.26,480.83 304.43,475.1 304.6,473.81 304.76,470.35 304.91,472.52 305.07,478.97 305.23,479.29 305.39,471.36 305.54,469.55 305.7,470.15 305.87,473.87 306.04,470.55 306.21,470.78 306.39,473.08 306.56,468.93 306.73,470.54 306.9,471.38 307.05,465.68 307.2,463.63 307.35,475.7 307.5,465.56 307.65,470.24 307.8,471.42 307.96,476.29 308.12,479.26 308.28,481.99" fill="none" stroke="#A2142F" stroke-width="0.5" stroke-linejoin="round" stroke-opacity="0.92"/>
<polyline points="310.64,489.72 310.81,495.32 310.99,491.92 311.16,492.01 311.33,492.52 311.5,493.37 311.66,488.02 311.81,488.34 311.97,490.37 312.13,489.69 312.29,485.69 312.44,486.18 312.6,487.16 312.77,486.69 312.94,487.06 313.11,486.95 313.29,482.61 313.46,483.08 313.63,485.42 313.8,489.92 313.97,482.24 314.14,482.28 314.31,486.86 314.49,487.14 314.66,486.87 314.83,484.64 315,491.36 315.16,485.77 315.31,479.38 315.47,483.83 315.63,485.97 315.79,487.83 315.94,487.62 316.1,484.88 316.27,488.1 316.44,488.3 316.61,492.97 316.79,482.9 316.96,486.16 317.13,486.82 317.3,485.42 317.46,490.59 317.61,489.86 317.77,483.41 317.93,487.73 318.09,487.92 318.24,484.79 318.4,486.65 318.57,488.91 318.74,489.31 318.91,489.19 319.09,491.89 319.26,492.17 319.43,490.34 319.6,493.5 319.77,491.08 319.93,490.88 320.1,494.38 320.27,492.97 320.43,496.43 320.6,495.51" fill="none" stroke="#A2142F" stroke-width="0.5" stroke-linejoin="round" stroke-opacity="0.92"/>
<rect x="290.9" y="456.1" width="25.7" height="6.3" fill="#fff" stroke="#c8c8c8" stroke-width="0.5"/>
<line x1="291.8" y1="459.3" x2="297.3" y2="459.3" stroke="#A2142F" stroke-width="0.5" stroke-opacity="0.6"/>
<text x="297.9" y="460.8" font-size="4.4" fill="#444">1.2-order</text>
</svg>
</body></html>
